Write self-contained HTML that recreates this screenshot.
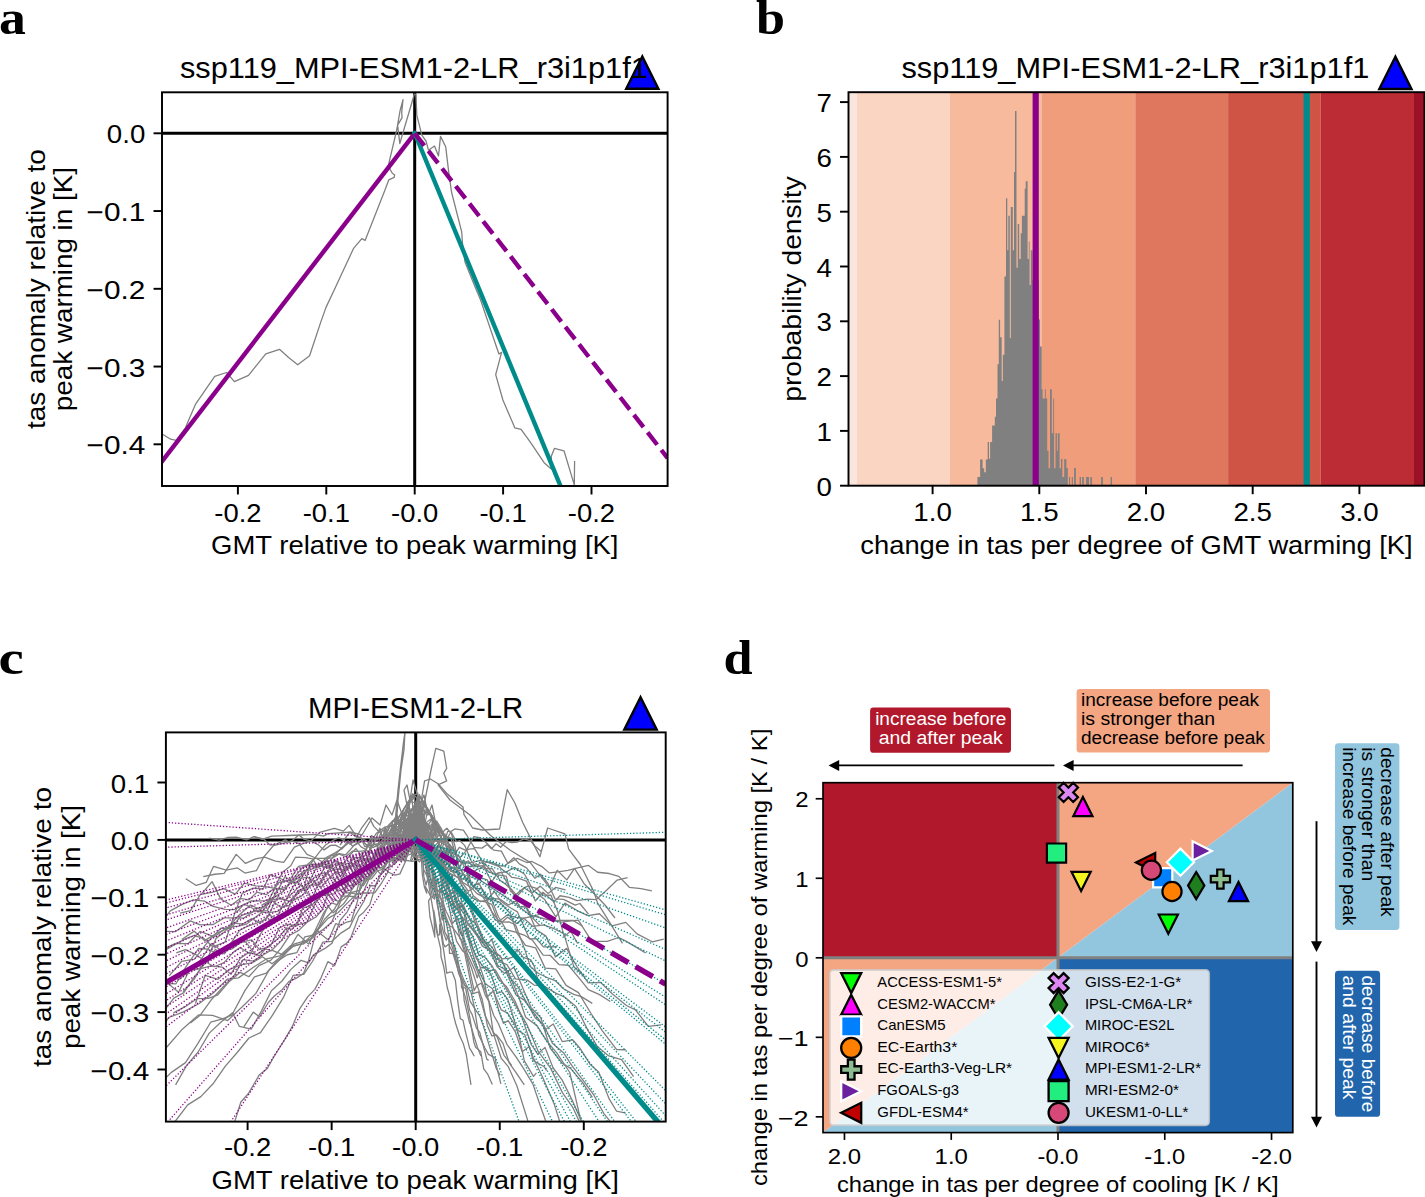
<!DOCTYPE html>
<html><head><meta charset="utf-8"><style>
html,body{margin:0;padding:0;background:#fff;overflow:hidden;width:1425px;height:1197px;}
svg{display:block;}
text{font-family:"Liberation Sans",sans-serif;}
</style></head><body>
<svg width="1425" height="1197" viewBox="0 0 1425 1197">
<rect width="1425" height="1197" fill="#fff"/>
<clipPath id="ca"><rect x="162.0" y="92.3" width="505.6" height="393.7"/></clipPath>
<g clip-path="url(#ca)">
<line x1="162.0" y1="133.3" x2="667.6" y2="133.3" stroke="#000" stroke-width="3.0"/>
<line x1="414.7" y1="92.3" x2="414.7" y2="486.0" stroke="#000" stroke-width="3.0"/>
<path d="M160.00,433.20 L162.60,434.20 L170.60,439.20 L176.10,440.30 L185.40,427.80 L195.60,404.10 L214.70,376.30 L226.60,372.50 L234.40,381.60 L248.50,375.40 L265.80,353.90 L279.50,349.30 L288.60,357.50 L297.70,364.80 L309.60,355.70 L320.50,322.90 L326.00,307.40 L334.20,290.00 L353.40,248.70 L361.80,238.70 L365.10,240.40 L385.00,190.00 L388.80,179.80 L394.20,177.30 L394.60,174.80 L392.50,173.50 L390.00,169.40 L388.80,163.50 L396.30,131.80 L397.60,125.10 L400.00,111.00 L403.00,99.60 L401.70,112.60 L402.10,117.60 L397.60,125.10 L399.80,143.50 L414.30,94.20 L415.90,94.20 L416.80,115.10 L421.80,135.10 L426.00,141.00 L428.50,150.20 L434.50,146.00 L438.50,156.00 L440.50,136.40 L445.70,146.80 L448.50,170.20 L451.50,192.00 L461.70,231.90 L462.50,243.50 L465.00,261.90 L475.10,287.00 L480.60,300.00 L498.90,354.00 L501.60,352.40 L495.70,374.60 L502.90,400.00 L514.80,427.80 L521.10,429.40 L529.80,441.30 L544.10,462.70 L551.30,469.00 L551.30,456.30 L554.40,448.40 L564.00,450.80 L574.30,484.90 L574.60,461.10" fill="none" stroke="#808080" stroke-width="1.3" stroke-linejoin="round"/>
<line x1="414.7" y1="133.3" x2="162" y2="461.4" stroke="#8b008b" stroke-width="4.4" stroke-linecap="square"/>
<line x1="414.7" y1="133.3" x2="562.57" y2="491.0" stroke="#008b8b" stroke-width="4.4" stroke-linecap="square"/>
<line x1="414.7" y1="133.3" x2="667.6" y2="458.1" stroke="#8b008b" stroke-width="4.4" stroke-dasharray="15.6 6.7"/>
</g>
<rect x="162.00" y="92.30" width="505.60" height="393.70" fill="none" stroke="#000" stroke-width="1.94" stroke-linejoin="miter"/>
<line x1="153.53" y1="133.30" x2="162.00" y2="133.30" stroke="#000" stroke-width="1.94"/>
<text x="145.36" y="143.30" font-size="25.65" textLength="38.49" lengthAdjust="spacingAndGlyphs" text-anchor="end">0.0</text>
<line x1="153.53" y1="211.05" x2="162.00" y2="211.05" stroke="#000" stroke-width="1.94"/>
<text x="145.36" y="221.05" font-size="25.65" textLength="58.76" lengthAdjust="spacingAndGlyphs" text-anchor="end">−0.1</text>
<line x1="153.53" y1="288.80" x2="162.00" y2="288.80" stroke="#000" stroke-width="1.94"/>
<text x="145.36" y="298.80" font-size="25.65" textLength="58.76" lengthAdjust="spacingAndGlyphs" text-anchor="end">−0.2</text>
<line x1="153.53" y1="366.55" x2="162.00" y2="366.55" stroke="#000" stroke-width="1.94"/>
<text x="145.36" y="376.55" font-size="25.65" textLength="58.76" lengthAdjust="spacingAndGlyphs" text-anchor="end">−0.3</text>
<line x1="153.53" y1="444.30" x2="162.00" y2="444.30" stroke="#000" stroke-width="1.94"/>
<text x="145.36" y="454.30" font-size="25.65" textLength="58.76" lengthAdjust="spacingAndGlyphs" text-anchor="end">−0.4</text>
<line x1="237.90" y1="486.00" x2="237.90" y2="494.47" stroke="#000" stroke-width="1.94"/>
<text x="237.90" y="521.60" font-size="25.65" textLength="47.22" lengthAdjust="spacingAndGlyphs" text-anchor="middle">-0.2</text>
<line x1="326.30" y1="486.00" x2="326.30" y2="494.47" stroke="#000" stroke-width="1.94"/>
<text x="326.30" y="521.60" font-size="25.65" textLength="47.22" lengthAdjust="spacingAndGlyphs" text-anchor="middle">-0.1</text>
<line x1="414.70" y1="486.00" x2="414.70" y2="494.47" stroke="#000" stroke-width="1.94"/>
<text x="414.70" y="521.60" font-size="25.65" textLength="47.22" lengthAdjust="spacingAndGlyphs" text-anchor="middle">-0.0</text>
<line x1="503.10" y1="486.00" x2="503.10" y2="494.47" stroke="#000" stroke-width="1.94"/>
<text x="503.10" y="521.60" font-size="25.65" textLength="47.22" lengthAdjust="spacingAndGlyphs" text-anchor="middle">-0.1</text>
<line x1="591.50" y1="486.00" x2="591.50" y2="494.47" stroke="#000" stroke-width="1.94"/>
<text x="591.50" y="521.60" font-size="25.65" textLength="47.22" lengthAdjust="spacingAndGlyphs" text-anchor="middle">-0.2</text>
<text x="414.80" y="553.80" font-size="25.65" textLength="407.44" lengthAdjust="spacingAndGlyphs" text-anchor="middle">GMT relative to peak warming [K]</text>
<text x="44.85" y="289.10" font-size="25.65" textLength="280.00" lengthAdjust="spacingAndGlyphs" text-anchor="middle" transform="rotate(-90 44.85 289.10)">tas anomaly relative to</text>
<text x="71.90" y="289.10" font-size="25.65" textLength="244.13" lengthAdjust="spacingAndGlyphs" text-anchor="middle" transform="rotate(-90 71.90 289.10)">peak warming in [K]</text>
<path d="M642.30,56.50 L626.20,88.70 L658.40,88.70 Z" fill="#0000ff" stroke="#000" stroke-width="2.4" stroke-linejoin="miter"/>
<text x="413.90" y="77.80" font-size="29.70" textLength="467.90" lengthAdjust="spacingAndGlyphs" text-anchor="middle">ssp119_MPI-ESM1-2-LR_r3i1p1f1</text>
<text x="-1.00" y="33.70" font-size="49.38" textLength="26.89" lengthAdjust="spacingAndGlyphs" style="font-family:&quot;Liberation Serif&quot;,serif" font-weight="bold">a</text>
<clipPath id="cb"><rect x="848.5" y="92.2" width="576.0" height="393.5"/></clipPath>
<g clip-path="url(#cb)">
<rect x="848.50" y="92.2" width="8.50" height="393.5" fill="#fae6dc"/>
<rect x="857.00" y="92.2" width="92.80" height="393.5" fill="#fad5c1"/>
<rect x="949.80" y="92.2" width="92.10" height="393.5" fill="#f7ba9d"/>
<rect x="1041.90" y="92.2" width="93.40" height="393.5" fill="#f09d7c"/>
<rect x="1135.30" y="92.2" width="92.80" height="393.5" fill="#df765e"/>
<rect x="1228.10" y="92.2" width="92.70" height="393.5" fill="#d05446"/>
<rect x="1320.80" y="92.2" width="93.20" height="393.5" fill="#bc2c35"/>
<rect x="1414.00" y="92.2" width="16.00" height="393.5" fill="#9b1226"/>
<path d="M977.4,485.7V477.0H980.1V485.7ZM980.1,485.7V459.5H982.6V485.7ZM982.6,485.7V468.3H984.2V485.7ZM984.2,485.7V472.2H985.8V485.7ZM985.8,485.7V459.5H987.7V485.7ZM987.7,485.7V442.0H989.0V485.7ZM989.0,485.7V458.7H990.1V485.7ZM990.1,485.7V442.0H992.1V485.7ZM992.1,485.7V425.4H994.8V485.7ZM994.8,485.7V416.7H996.0V485.7ZM996.0,485.7V398.4H997.5V485.7ZM997.5,485.7V364.3H998.8V485.7ZM998.8,485.7V319.8H1000.1V485.7ZM1000.1,485.7V337.3H1001.7V485.7ZM1001.7,485.7V381.0H1002.8V485.7ZM1002.8,485.7V354.8H1004.4V485.7ZM1004.4,485.7V276.5H1006.0V485.7ZM1006.0,485.7V198.2H1007.3V485.7ZM1007.3,485.7V250.2H1008.3V485.7ZM1008.3,485.7V215.7H1009.8V485.7ZM1009.8,485.7V337.9H1010.8V485.7ZM1010.8,485.7V206.9H1012.8V485.7ZM1012.8,485.7V250.2H1014.0V485.7ZM1014.0,485.7V171.9H1015.0V485.7ZM1015.0,485.7V110.9H1016.5V485.7ZM1016.5,485.7V267.7H1017.7V485.7ZM1017.7,485.7V223.9H1019.2V485.7ZM1019.2,485.7V259.0H1020.7V485.7ZM1020.7,485.7V233.3H1021.9V485.7ZM1021.9,485.7V215.7H1024.7V485.7ZM1024.7,485.7V188.8H1025.7V485.7ZM1025.7,485.7V181.3H1027.6V485.7ZM1027.6,485.7V259.0H1028.8V485.7ZM1028.8,485.7V241.4H1029.6V485.7ZM1029.6,485.7V285.0H1030.8V485.7ZM1030.8,485.7V250.2H1032.6V485.7ZM1032.6,485.7V280.0H1038.7V485.7ZM1038.7,485.7V319.6H1040.0V485.7ZM1040.0,485.7V346.5H1041.7V485.7ZM1041.7,485.7V389.2H1042.6V485.7ZM1042.6,485.7V398.4H1044.9V485.7ZM1044.9,485.7V389.2H1045.8V485.7ZM1045.8,485.7V398.4H1047.2V485.7ZM1047.2,485.7V450.8H1048.6V485.7ZM1048.6,485.7V468.3H1050.0V485.7ZM1050.0,485.7V389.2H1051.8V485.7ZM1051.8,485.7V433.3H1053.2V485.7ZM1053.2,485.7V398.4H1054.1V485.7ZM1054.1,485.7V468.3H1055.5V485.7ZM1055.5,485.7V433.3H1056.9V485.7ZM1056.9,485.7V450.8H1057.8V485.7ZM1057.8,485.7V433.3H1059.6V485.7ZM1059.6,485.7V468.3H1061.0V485.7ZM1061.0,485.7V459.1H1062.4V485.7ZM1062.4,485.7V477.0H1064.2V485.7ZM1064.2,485.7V459.1H1065.6V485.7ZM1065.6,485.7V459.5H1066.4V485.7ZM1066.4,485.7V468.0H1067.8V485.7ZM1069.0,485.7V477.0H1070.1V485.7ZM1071.8,485.7V477.0H1072.9V485.7ZM1074.1,485.7V468.0H1075.9V485.7ZM1079.6,485.7V477.0H1081.0V485.7ZM1082.2,485.7V477.0H1083.9V485.7ZM1086.1,485.7V477.0H1089.0V485.7ZM1090.3,485.7V477.0H1092.0V485.7ZM1101.1,485.7V477.0H1102.9V485.7ZM1110.6,485.7V477.0H1112.0V485.7Z" fill="#808080"/>
<line x1="1035.7" y1="92.2" x2="1035.7" y2="485.7" stroke="#8b008b" stroke-width="6.2"/>
<line x1="1306.7" y1="92.2" x2="1306.7" y2="485.7" stroke="#008b8b" stroke-width="6.4"/>
</g>
<rect x="848.50" y="92.20" width="576.00" height="393.50" fill="none" stroke="#000" stroke-width="1.94" stroke-linejoin="miter"/>
<line x1="840.03" y1="485.70" x2="848.50" y2="485.70" stroke="#000" stroke-width="1.94"/>
<text x="831.86" y="495.70" font-size="25.65" textLength="15.40" lengthAdjust="spacingAndGlyphs" text-anchor="end">0</text>
<line x1="840.03" y1="430.90" x2="848.50" y2="430.90" stroke="#000" stroke-width="1.94"/>
<text x="831.86" y="440.90" font-size="25.65" textLength="15.40" lengthAdjust="spacingAndGlyphs" text-anchor="end">1</text>
<line x1="840.03" y1="376.10" x2="848.50" y2="376.10" stroke="#000" stroke-width="1.94"/>
<text x="831.86" y="386.10" font-size="25.65" textLength="15.40" lengthAdjust="spacingAndGlyphs" text-anchor="end">2</text>
<line x1="840.03" y1="321.30" x2="848.50" y2="321.30" stroke="#000" stroke-width="1.94"/>
<text x="831.86" y="331.30" font-size="25.65" textLength="15.40" lengthAdjust="spacingAndGlyphs" text-anchor="end">3</text>
<line x1="840.03" y1="266.50" x2="848.50" y2="266.50" stroke="#000" stroke-width="1.94"/>
<text x="831.86" y="276.50" font-size="25.65" textLength="15.40" lengthAdjust="spacingAndGlyphs" text-anchor="end">4</text>
<line x1="840.03" y1="211.70" x2="848.50" y2="211.70" stroke="#000" stroke-width="1.94"/>
<text x="831.86" y="221.70" font-size="25.65" textLength="15.40" lengthAdjust="spacingAndGlyphs" text-anchor="end">5</text>
<line x1="840.03" y1="156.90" x2="848.50" y2="156.90" stroke="#000" stroke-width="1.94"/>
<text x="831.86" y="166.90" font-size="25.65" textLength="15.40" lengthAdjust="spacingAndGlyphs" text-anchor="end">6</text>
<line x1="840.03" y1="102.10" x2="848.50" y2="102.10" stroke="#000" stroke-width="1.94"/>
<text x="831.86" y="112.10" font-size="25.65" textLength="15.40" lengthAdjust="spacingAndGlyphs" text-anchor="end">7</text>
<line x1="932.60" y1="485.70" x2="932.60" y2="494.17" stroke="#000" stroke-width="1.94"/>
<text x="932.60" y="521.00" font-size="25.65" textLength="38.49" lengthAdjust="spacingAndGlyphs" text-anchor="middle">1.0</text>
<line x1="1039.30" y1="485.70" x2="1039.30" y2="494.17" stroke="#000" stroke-width="1.94"/>
<text x="1039.30" y="521.00" font-size="25.65" textLength="38.49" lengthAdjust="spacingAndGlyphs" text-anchor="middle">1.5</text>
<line x1="1146.00" y1="485.70" x2="1146.00" y2="494.17" stroke="#000" stroke-width="1.94"/>
<text x="1146.00" y="521.00" font-size="25.65" textLength="38.49" lengthAdjust="spacingAndGlyphs" text-anchor="middle">2.0</text>
<line x1="1252.70" y1="485.70" x2="1252.70" y2="494.17" stroke="#000" stroke-width="1.94"/>
<text x="1252.70" y="521.00" font-size="25.65" textLength="38.49" lengthAdjust="spacingAndGlyphs" text-anchor="middle">2.5</text>
<line x1="1359.40" y1="485.70" x2="1359.40" y2="494.17" stroke="#000" stroke-width="1.94"/>
<text x="1359.40" y="521.00" font-size="25.65" textLength="38.49" lengthAdjust="spacingAndGlyphs" text-anchor="middle">3.0</text>
<text x="1136.50" y="553.80" font-size="25.65" textLength="552.23" lengthAdjust="spacingAndGlyphs" text-anchor="middle">change in tas per degree of GMT warming [K]</text>
<text x="801.10" y="289.00" font-size="25.65" textLength="225.54" lengthAdjust="spacingAndGlyphs" text-anchor="middle" transform="rotate(-90 801.10 289.00)">probability density</text>
<path d="M1395.40,56.80 L1379.30,89.00 L1411.50,89.00 Z" fill="#0000ff" stroke="#000" stroke-width="2.4" stroke-linejoin="miter"/>
<text x="1135.40" y="77.90" font-size="29.70" textLength="467.90" lengthAdjust="spacingAndGlyphs" text-anchor="middle">ssp119_MPI-ESM1-2-LR_r3i1p1f1</text>
<text x="755.90" y="33.70" font-size="49.38" textLength="29.02" lengthAdjust="spacingAndGlyphs" style="font-family:&quot;Liberation Serif&quot;,serif" font-weight="bold">b</text>
<clipPath id="cc"><rect x="165.9" y="732.4" width="499.80000000000007" height="389.19999999999993"/></clipPath>
<g clip-path="url(#cc)">
<line x1="165.9" y1="839.9" x2="665.7" y2="839.9" stroke="#000" stroke-width="3.0"/>
<line x1="415.7" y1="732.4" x2="415.7" y2="1121.6" stroke="#000" stroke-width="3.0"/>
<path d="M203.25,876.53 L214.82,874.24 L224.17,873.39 L236.19,854.39 L245.55,863.42 L255.54,858.83 L264.58,857.10 L275.44,861.09 L283.70,862.43 L294.41,847.18 L302.10,843.91 L310.65,841.21 L319.64,832.36 L327.12,830.38 L334.50,828.37 L343.29,831.09 L349.09,825.40 L356.60,836.79 L361.21,828.74 L369.28,817.66 L373.77,826.38 L380.80,833.53 L385.23,842.00 L389.85,848.68 L394.63,853.43 L398.18,834.51 L401.24,829.69 L406.12,822.22 L408.20,824.18 L410.10,814.60 L412.46,822.03 L414.42,815.13 L416.75,824.52 L417.25,827.26 L418.74,826.61 L423.21,822.51 L423.27,830.21 L424.39,840.21 L428.03,840.63 L429.83,856.55 L431.04,863.37 L434.29,851.03 L437.44,846.58 L440.86,845.99 L444.82,833.71 L451.32,851.76 L452.76,846.88 L456.48,856.46 L461.53,864.00 L468.46,860.78 L472.32,866.68 L477.56,864.76 L482.60,862.28 L487.53,866.50 L492.96,873.98 L499.21,875.09 L506.25,876.20 L510.37,891.09 L515.07,895.19 L523.50,888.13 L528.39,885.91 L536.54,888.35 L542.97,895.20 L550.97,895.26 L557.61,911.46 L564.22,936.68 L570.52,931.05 L577.74,943.67" fill="none" stroke="#808080" stroke-width="1.3" stroke-linejoin="round"/>
<path d="M236.39,912.51 L243.28,904.84 L251.44,900.95 L256.42,900.99 L265.30,900.53 L273.52,897.69 L279.40,887.37 L285.05,876.53 L293.15,883.10 L298.67,882.28 L306.39,870.48 L311.48,865.79 L314.74,866.39 L322.77,866.11 L329.47,867.24 L334.73,859.78 L340.28,866.40 L342.85,872.65 L349.90,880.35 L355.61,881.97 L360.57,884.95 L363.32,885.70 L369.58,875.67 L372.57,868.34 L377.92,867.45 L380.54,849.67 L384.36,854.80 L389.19,851.01 L392.30,847.76 L395.09,841.62 L397.76,838.30 L401.29,834.48 L403.71,834.18 L404.47,820.53 L407.74,811.11 L408.94,805.96 L410.30,811.41 L412.73,816.95 L414.23,821.83 L415.25,831.58 L417.60,839.12 L418.63,839.61 L421.20,836.48 L423.45,852.01 L426.12,852.69 L430.93,856.69 L436.37,857.76 L438.65,866.36 L446.23,893.77 L449.74,902.33 L457.22,909.22 L463.33,905.34 L469.89,919.53 L475.62,931.97 L483.08,942.13 L491.81,946.50 L499.84,961.79 L507.02,964.61 L515.46,978.93 L527.24,980.13 L534.18,985.05 L543.94,986.05 L555.80,993.15 L565.22,997.40 L575.98,1006.45 L587.96,1030.35 L597.36,1046.61 L608.77,1055.91 L621.55,1059.71 L633.62,1076.59" fill="none" stroke="#808080" stroke-width="1.3" stroke-linejoin="round"/>
<path d="M201.95,893.54 L212.10,881.65 L220.68,898.87 L231.17,905.26 L240.31,898.43 L248.89,899.95 L256.89,892.21 L266.26,894.65 L273.96,888.54 L282.75,872.10 L290.79,865.69 L295.39,857.20 L305.45,857.72 L312.77,858.89 L318.07,867.88 L327.65,860.65 L333.19,869.34 L340.75,876.41 L346.12,866.38 L351.25,867.05 L356.86,860.53 L362.66,861.70 L369.30,868.56 L374.03,867.30 L378.19,867.79 L381.37,867.76 L387.98,871.11 L391.24,853.84 L396.39,851.54 L399.31,843.63 L401.77,848.02 L404.66,840.48 L407.98,844.28 L410.12,825.96 L411.88,824.72 L413.89,809.33 L414.98,815.59 L417.20,807.38 L417.33,820.91 L420.96,823.91 L420.35,839.10 L423.76,834.82 L425.43,843.34 L426.85,840.56 L428.53,836.86 L432.11,836.82 L434.39,849.41 L438.39,844.94 L441.70,835.57 L444.20,830.50 L446.89,828.24 L451.62,834.21 L454.98,846.23 L458.99,867.85 L463.95,859.87 L468.05,873.84 L472.50,886.17 L478.74,883.15 L483.21,890.85 L488.23,898.80 L494.35,891.50 L500.73,901.02 L505.35,904.42 L511.17,908.28 L517.39,911.90 L522.55,923.15 L529.50,938.97 L536.20,938.62 L543.47,946.93 L549.00,946.92 L556.76,946.74" fill="none" stroke="#808080" stroke-width="1.3" stroke-linejoin="round"/>
<path d="M181.73,939.46 L194.28,931.15 L204.53,940.58 L217.56,932.85 L227.13,928.35 L238.88,915.24 L250.45,904.97 L260.65,909.67 L267.23,902.67 L278.27,882.65 L289.66,880.03 L298.50,866.39 L307.14,864.78 L314.70,858.31 L324.10,858.26 L332.80,857.88 L339.47,853.62 L345.68,854.80 L354.74,844.63 L361.45,840.77 L364.82,841.39 L372.67,841.64 L379.66,849.03 L383.04,844.26 L389.99,834.66 L392.96,821.11 L398.96,821.77 L402.76,813.39 L404.63,813.51 L408.92,806.76 L411.36,798.16 L411.73,797.81 L413.94,797.01 L416.37,807.61 L417.48,797.47 L418.78,806.47 L421.20,814.67 L423.67,823.27 L425.70,823.88 L429.56,833.32 L431.34,837.04 L433.96,846.76 L438.43,854.38 L441.90,867.50 L447.94,864.01 L450.65,854.07 L455.15,853.84 L459.33,847.44 L465.72,850.39 L468.93,849.05 L474.53,848.57 L479.96,857.32 L485.97,868.73 L491.98,868.40 L500.00,880.27 L504.42,883.35 L511.47,889.80 L519.40,906.80 L526.53,906.72 L531.97,917.35 L540.06,925.70" fill="none" stroke="#808080" stroke-width="1.3" stroke-linejoin="round"/>
<path d="M160.45,923.58 L170.26,910.94 L182.21,904.39 L193.26,899.92 L204.43,901.11 L213.17,906.43 L224.96,909.39 L233.98,909.72 L244.39,904.17 L254.06,909.00 L263.58,907.26 L271.32,900.18 L280.62,907.28 L289.31,905.48 L298.08,890.56 L305.60,887.82 L314.30,877.48 L321.97,873.11 L327.24,873.02 L334.63,860.07 L342.69,864.49 L350.47,854.57 L355.94,848.55 L362.95,857.72 L367.64,852.00 L373.92,853.74 L379.69,852.98 L382.86,846.32 L389.33,842.06 L393.37,831.33 L396.89,822.79 L400.91,827.31 L402.64,827.14 L406.17,821.85 L409.51,815.87 L410.29,817.76 L412.68,822.36 L414.51,810.85 L417.50,832.26 L417.84,833.21 L420.51,846.90 L422.05,833.83 L426.24,843.20 L428.02,843.98 L431.03,849.21 L435.35,852.79 L439.28,858.88 L444.03,850.50 L450.82,861.74 L454.76,853.10 L460.13,857.59 L465.77,851.36 L473.74,836.69 L479.84,837.75 L486.06,842.44 L493.67,850.10 L501.33,851.10 L507.96,863.48 L517.26,858.36 L526.76,862.51 L531.87,861.49 L542.42,866.91 L549.34,872.90 L558.12,871.90 L567.87,870.31 L578.66,867.55 L588.49,865.48 L597.55,872.25 L609.23,873.51 L618.79,876.33 L629.34,887.31 L640.99,888.55 L651.87,890.92" fill="none" stroke="#808080" stroke-width="1.3" stroke-linejoin="round"/>
<path d="M169.23,975.95 L181.73,961.28 L194.55,959.21 L207.49,942.30 L220.94,928.08 L230.98,928.28 L241.51,915.45 L255.76,910.82 L266.39,912.93 L277.83,911.35 L287.26,903.57 L298.88,891.01 L306.47,889.33 L317.67,879.06 L326.66,864.43 L335.09,854.65 L342.06,847.56 L351.22,841.00 L358.45,836.79 L366.57,840.83 L372.90,847.64 L379.03,844.69 L385.34,836.10 L390.42,825.46 L395.15,817.95 L399.65,826.17 L403.36,823.78 L406.86,828.89 L408.22,829.09 L413.30,822.25 L413.59,824.37 L417.43,830.50 L419.20,844.33 L420.13,842.80 L423.12,846.79 L425.42,844.66 L428.63,849.91 L436.68,859.06 L438.08,856.58 L441.89,857.34 L448.00,872.41 L454.25,875.64 L457.61,877.30 L463.52,888.30 L471.28,897.41 L477.68,900.57 L485.36,901.74 L491.77,904.38 L499.52,924.21 L507.54,917.28 L516.57,923.43 L524.04,918.14 L535.34,915.75 L543.13,912.91 L551.61,920.45 L561.22,920.40 L573.03,920.41 L582.61,926.29" fill="none" stroke="#808080" stroke-width="1.3" stroke-linejoin="round"/>
<path d="M214.70,1138.81 L222.29,1136.12 L233.51,1125.57 L240.88,1102.05 L248.67,1093.20 L259.16,1075.10 L267.36,1068.43 L274.51,1055.73 L284.81,1039.40 L292.32,1026.39 L299.66,1008.89 L307.80,996.63 L314.88,989.34 L321.03,977.85 L327.85,961.64 L334.75,965.59 L341.19,946.90 L346.85,943.12 L350.92,937.52 L358.80,916.36 L363.58,912.41 L369.85,904.57 L375.27,886.71 L379.54,876.40 L384.29,867.18 L388.93,849.36 L390.98,851.20 L396.25,846.29 L399.78,846.07 L402.71,843.39 L404.26,840.42 L408.63,830.89 L410.15,836.74 L411.67,834.40 L413.71,828.94 L413.15,836.18 L417.38,837.94 L417.99,845.73 L423.09,856.45 L423.60,852.96 L427.97,842.11 L432.12,843.19 L435.99,849.14 L439.61,847.27 L445.45,848.70 L450.01,851.48 L455.71,863.73 L462.63,882.20 L471.73,887.91 L476.96,893.61 L485.64,898.17 L493.87,898.42 L500.30,899.40 L508.58,904.94 L519.69,899.17 L527.03,909.11 L536.08,929.56 L545.99,936.11 L555.44,956.86 L566.59,948.32 L576.74,966.25 L588.22,982.91 L600.74,982.44 L612.15,993.68 L626.42,1005.51 L635.46,1009.83 L648.29,1026.28 L661.23,1024.85" fill="none" stroke="#808080" stroke-width="1.3" stroke-linejoin="round"/>
<path d="M190.37,1023.09 L200.07,1015.34 L211.30,999.80 L223.79,986.09 L234.40,975.10 L243.07,959.59 L253.10,961.07 L263.80,954.43 L271.68,950.03 L282.43,954.71 L289.79,948.14 L297.98,934.25 L308.56,944.11 L314.92,930.98 L323.85,912.44 L331.70,902.82 L337.37,904.78 L344.63,892.83 L350.32,892.82 L359.73,890.25 L365.39,877.17 L370.12,876.09 L375.25,868.79 L382.41,862.02 L386.14,854.69 L390.91,858.61 L395.35,850.95 L399.47,843.02 L403.71,840.43 L406.23,831.30 L406.59,829.15 L409.56,826.61 L413.82,820.51 L413.31,812.86 L417.08,804.13 L418.37,797.94 L421.80,811.79 L424.80,822.42 L428.67,826.32 L432.33,824.20 L436.23,838.86 L441.97,851.29 L446.74,863.16 L452.69,868.24 L459.85,867.84 L465.99,878.97 L473.27,895.83 L480.53,901.64 L491.51,899.12 L498.28,916.51 L506.04,929.69 L516.54,932.46 L525.50,945.49 L535.57,947.84 L545.16,968.15 L555.73,968.84 L566.07,985.37 L578.46,992.59 L590.87,1013.23 L602.52,1031.11 L616.69,1049.68 L625.93,1049.74" fill="none" stroke="#808080" stroke-width="1.3" stroke-linejoin="round"/>
<path d="M179.27,979.52 L189.12,970.70 L201.86,968.26 L210.97,965.83 L222.11,967.03 L230.92,974.33 L240.33,958.08 L249.27,952.27 L259.52,955.93 L265.51,948.57 L278.06,938.55 L286.21,927.99 L292.20,929.27 L303.10,913.40 L309.50,907.19 L316.84,886.82 L325.91,872.67 L331.07,876.96 L338.10,883.25 L345.34,884.97 L350.34,874.83 L359.17,872.49 L362.65,876.27 L369.09,851.37 L373.90,844.60 L379.89,828.09 L383.16,840.23 L389.69,826.13 L394.24,827.20 L397.14,815.29 L400.49,825.27 L404.28,829.56 L407.49,824.46 L409.79,821.43 L411.75,819.58 L413.35,822.15 L414.06,821.92 L417.80,818.67 L420.37,823.90 L418.79,814.83 L421.46,823.32 L423.93,836.40 L428.46,850.96 L429.68,851.49 L432.55,856.96 L437.90,858.26 L440.58,855.17 L445.06,875.48 L449.73,884.84 L454.95,883.10 L458.47,899.79 L463.56,908.45 L470.36,919.83 L474.94,922.73 L480.56,933.52 L486.89,945.37 L494.08,953.16 L500.42,955.89 L507.24,974.48 L516.10,994.93 L524.14,1000.16 L530.47,1008.70 L538.63,1019.20 L545.45,1029.42 L553.26,1023.98 L562.36,1041.71 L572.58,1039.78 L579.58,1047.70 L589.99,1064.17 L598.69,1071.91 L609.16,1098.93 L616.64,1111.23 L625.83,1113.08" fill="none" stroke="#808080" stroke-width="1.3" stroke-linejoin="round"/>
<path d="M146.60,1169.26 L159.78,1154.29 L174.55,1122.20 L187.70,1104.87 L200.84,1096.64 L213.53,1083.18 L225.16,1066.39 L237.20,1052.49 L248.95,1038.03 L260.44,1032.57 L272.17,1015.64 L283.46,997.41 L293.13,975.31 L303.74,974.40 L312.56,961.25 L322.92,942.12 L331.90,941.33 L341.30,932.85 L349.58,927.64 L354.95,916.28 L364.19,900.60 L370.47,885.52 L375.27,885.88 L381.90,872.10 L388.20,861.34 L394.88,860.35 L399.33,854.66 L402.67,848.25 L405.12,827.63 L409.00,823.87 L412.66,815.87 L414.11,809.53 L417.41,805.52 L420.70,815.92 L420.06,819.97 L423.38,842.96 L425.45,848.14 L430.72,858.40 L434.09,862.50 L437.47,867.19 L444.13,887.74 L447.84,895.27 L452.90,912.25 L458.24,918.76 L463.93,943.25 L470.21,954.21 L477.42,971.53 L485.77,991.42 L493.67,1015.27 L498.34,1023.46 L506.91,1044.37 L516.18,1057.08 L523.03,1067.56 L532.82,1083.90 L541.23,1108.56 L550.38,1133.96 L560.53,1163.61 L574.82,1185.03 L581.40,1193.21 L592.13,1215.38 L602.63,1237.03 L615.17,1260.85 L624.89,1283.68" fill="none" stroke="#808080" stroke-width="1.3" stroke-linejoin="round"/>
<path d="M139.95,924.83 L150.06,927.39 L164.00,931.32 L175.57,931.59 L190.40,920.87 L200.12,924.90 L213.28,924.52 L224.22,917.93 L233.92,917.93 L243.56,918.20 L254.29,910.70 L267.08,910.88 L277.43,889.30 L286.52,887.13 L296.44,877.34 L304.58,870.46 L309.92,870.06 L322.76,863.70 L330.99,855.75 L338.65,853.95 L345.78,856.77 L352.29,851.22 L358.92,851.43 L366.12,850.52 L371.42,835.57 L377.03,839.61 L384.12,834.41 L388.55,825.14 L393.26,820.29 L398.03,821.59 L400.78,824.23 L405.19,825.00 L407.49,839.41 L409.86,840.06 L409.68,843.44 L414.54,832.07 L416.90,816.54 L417.96,826.58 L421.94,837.50 L423.26,838.91 L427.93,855.27 L429.65,871.02 L433.75,864.45 L438.49,866.29 L444.35,875.48 L450.40,867.90 L455.20,867.56 L461.27,881.32 L468.32,891.19 L474.80,887.22 L482.94,896.86 L491.94,911.98 L499.03,921.17 L507.19,915.02 L515.93,917.47 L523.60,918.08 L532.75,926.35 L543.89,924.95 L553.21,928.28 L563.80,933.62 L573.98,967.08 L584.87,976.98" fill="none" stroke="#808080" stroke-width="1.3" stroke-linejoin="round"/>
<path d="M185.75,878.76 L196.25,885.46 L206.32,882.30 L213.45,866.44 L226.27,870.13 L237.49,867.92 L244.93,873.02 L256.48,870.53 L263.61,857.12 L273.35,845.72 L283.36,843.13 L291.57,841.00 L298.82,843.31 L306.97,854.37 L315.74,858.01 L323.16,862.55 L329.47,867.45 L336.25,863.75 L342.54,865.95 L351.27,868.21 L356.55,878.55 L362.16,870.46 L368.53,870.18 L374.44,869.10 L379.16,852.77 L384.40,851.09 L388.46,862.19 L391.29,860.51 L397.79,849.43 L401.41,844.50 L403.04,843.21 L404.93,842.44 L409.30,829.36 L411.25,830.25 L412.28,822.94 L414.87,827.85 L416.41,819.38 L417.68,821.61 L420.14,816.57 L422.22,825.61 L426.98,839.72 L428.64,836.80 L431.68,847.36 L437.99,861.04 L443.90,880.54 L446.94,883.28 L450.06,892.51 L455.81,908.53 L462.42,904.16 L467.76,924.22 L473.13,930.55 L480.60,940.50 L487.62,948.50 L494.83,957.83 L502.06,961.21 L510.67,978.32 L518.10,986.84 L526.39,1002.25 L535.31,1017.99 L543.28,1024.06 L552.40,1043.29 L563.74,1053.10 L571.92,1065.58 L582.20,1079.18 L593.38,1094.28 L603.86,1113.64 L612.84,1124.62 L623.55,1145.06 L635.40,1160.25 L646.27,1180.82" fill="none" stroke="#808080" stroke-width="1.3" stroke-linejoin="round"/>
<path d="M156.30,984.85 L167.15,982.87 L178.60,992.18 L189.42,969.95 L200.20,960.76 L211.75,943.42 L221.73,951.09 L231.86,948.92 L241.08,942.21 L251.66,939.76 L259.29,949.66 L270.34,946.41 L279.21,927.98 L286.95,924.42 L297.03,925.37 L302.53,908.19 L311.79,905.43 L320.24,896.08 L328.56,894.36 L334.91,893.80 L342.67,876.49 L349.51,864.32 L354.18,857.48 L361.09,857.96 L363.16,860.42 L373.54,859.06 L378.09,852.91 L384.01,850.96 L385.54,848.13 L393.10,848.44 L396.59,853.56 L400.67,860.99 L400.88,856.31 L405.69,861.43 L408.49,847.72 L412.08,830.46 L411.57,834.84 L413.29,833.62 L420.23,840.17 L418.58,819.17 L421.61,827.79 L422.85,827.89 L424.72,830.45 L428.05,839.09 L430.98,850.11 L435.91,855.53 L437.96,855.06 L442.02,868.14 L446.44,883.38 L452.43,901.53 L456.01,920.55 L461.37,935.31 L467.09,927.83 L472.60,936.13 L478.88,954.94 L484.62,956.84 L492.42,966.50 L499.03,979.88 L506.12,986.13 L515.11,1001.21 L521.47,1016.13 L531.23,1044.49 L537.71,1054.08 L545.02,1047.37 L553.05,1067.76 L562.19,1080.11 L572.76,1101.39 L580.81,1119.88 L590.74,1144.56" fill="none" stroke="#808080" stroke-width="1.3" stroke-linejoin="round"/>
<path d="M141.07,986.67 L151.41,990.72 L164.64,983.34 L175.97,983.78 L185.92,966.89 L198.47,948.50 L208.35,949.22 L219.40,954.97 L228.50,946.80 L239.55,930.38 L248.13,926.04 L257.17,922.95 L266.30,919.11 L277.98,896.49 L285.56,900.13 L294.04,891.63 L301.33,884.51 L310.05,896.74 L318.24,893.27 L326.98,893.76 L334.32,888.20 L340.17,890.87 L346.70,886.41 L355.30,884.25 L361.58,874.44 L367.18,879.48 L371.52,867.26 L376.92,851.87 L383.09,855.23 L386.70,835.09 L392.08,834.49 L396.83,829.07 L399.45,830.56 L403.32,842.59 L405.14,834.65 L409.98,828.11 L411.68,824.08 L413.77,828.41 L414.62,826.40 L416.31,831.08 L418.42,837.97 L417.86,840.82 L420.61,840.82 L421.73,836.17 L423.76,839.48 L424.41,834.88 L425.52,848.70 L427.73,852.69 L430.39,862.19 L433.03,854.55 L437.56,862.44 L438.23,869.44 L440.54,860.63 L446.43,877.30 L448.68,881.78 L452.17,874.36 L454.71,891.99 L460.85,896.44 L462.27,908.07 L468.03,896.89 L470.02,907.18 L475.04,922.33 L480.40,934.93 L482.81,940.38 L488.48,943.33 L491.56,939.22 L496.42,952.74 L502.28,958.88 L508.96,958.09 L512.09,957.32 L517.30,949.19 L523.22,957.32 L530.79,959.93 L534.28,966.42 L539.96,987.95" fill="none" stroke="#808080" stroke-width="1.3" stroke-linejoin="round"/>
<path d="M195.45,1003.43 L205.15,975.42 L217.99,979.27 L229.07,969.62 L240.68,964.94 L251.97,962.97 L262.37,956.75 L272.04,963.79 L279.71,957.77 L292.82,946.70 L301.47,943.67 L310.92,938.55 L318.81,927.50 L327.84,905.97 L333.17,912.80 L343.63,903.85 L351.26,892.98 L357.76,894.66 L364.83,880.39 L371.51,878.55 L377.71,870.55 L381.88,869.62 L387.30,860.07 L393.17,854.64 L397.88,844.67 L402.03,858.86 L405.44,842.15 L408.52,832.05 L410.87,826.89 L413.44,822.48 L413.31,818.24 L417.47,796.15 L418.60,807.44 L422.31,829.64 L422.39,832.47 L422.86,831.89 L426.15,841.65 L427.99,853.79 L433.85,846.77 L436.23,848.01 L438.30,850.03 L441.81,856.68 L446.91,854.33 L450.10,844.88 L456.87,855.14 L458.97,855.99 L464.28,866.76 L470.31,866.64 L476.12,863.75 L481.40,867.84 L486.22,861.72 L493.89,862.95 L499.37,865.92 L505.00,865.85 L513.83,857.78 L519.32,863.90 L526.48,867.82 L535.01,878.35 L540.40,874.28 L547.85,883.22 L555.05,898.86 L563.59,899.36 L575.19,905.13 L579.83,903.51 L588.49,914.13" fill="none" stroke="#808080" stroke-width="1.3" stroke-linejoin="round"/>
<path d="M180.03,913.22 L190.53,910.69 L200.20,894.65 L212.79,892.17 L223.71,888.55 L235.23,894.19 L244.38,883.21 L255.82,885.89 L265.51,886.62 L275.36,888.40 L284.17,889.98 L292.37,879.31 L302.41,867.79 L310.41,864.04 L319.67,864.33 L327.54,856.72 L335.50,852.60 L341.03,849.14 L349.36,842.05 L356.51,841.75 L361.38,840.33 L368.92,846.96 L374.20,855.51 L379.92,868.06 L384.75,865.63 L390.41,856.28 L394.84,864.01 L398.48,859.15 L401.43,861.26 L403.86,851.87 L406.24,836.40 L410.85,837.88 L412.83,835.69 L414.61,810.48 L417.34,817.08 L418.12,814.03 L421.73,827.89 L423.99,830.35 L426.36,846.48 L428.97,851.97 L436.55,888.93 L438.89,890.84 L443.82,910.60 L449.38,925.84 L452.58,927.28 L460.36,938.10 L464.82,953.52 L473.01,993.60 L478.47,991.91 L485.19,1015.83 L492.91,1031.64 L501.14,1058.04 L508.42,1066.96 L516.87,1085.77 L526.86,1117.67 L535.68,1146.70 L547.47,1185.39 L553.56,1200.06 L564.52,1219.91 L575.13,1265.40 L584.34,1290.71 L595.57,1317.31 L607.37,1353.22 L618.13,1375.60" fill="none" stroke="#808080" stroke-width="1.3" stroke-linejoin="round"/>
<path d="M253.76,836.69 L263.31,838.84 L270.35,845.21 L276.89,843.85 L285.33,839.85 L289.88,842.50 L298.83,835.08 L303.88,839.13 L310.50,840.97 L318.08,844.62 L324.09,849.89 L330.45,845.37 L335.44,845.19 L342.30,848.72 L348.03,840.58 L352.48,846.07 L359.09,842.84 L362.79,840.87 L366.87,845.33 L372.88,845.35 L374.33,839.19 L381.34,843.84 L385.13,827.04 L387.97,826.38 L391.51,825.48 L395.05,824.48 L397.91,823.59 L401.58,822.33 L404.51,821.22 L407.37,820.03 L408.18,819.67 L407.82,819.83 L412.16,819.41 L413.97,829.09 L414.72,821.42 L416.64,819.82 L417.54,832.37 L419.22,829.51 L422.01,834.03 L421.77,835.01 L423.56,835.82 L424.34,832.10 L426.65,831.83 L431.32,833.94 L433.21,839.50 L436.90,840.64 L437.18,840.73 L440.84,839.66 L444.11,842.55 L447.70,831.34 L451.46,831.10 L455.24,828.80 L459.67,829.52 L463.41,830.07 L466.47,834.78 L474.17,847.38 L476.11,847.58 L481.89,848.12 L487.17,844.44 L491.48,848.89 L496.05,843.79 L500.61,847.24 L506.20,841.48 L511.79,842.69 L517.23,842.18 L523.71,838.86 L530.48,840.64 L534.57,845.77 L541.29,851.42" fill="none" stroke="#808080" stroke-width="1.3" stroke-linejoin="round"/>
<path d="M261.39,905.43 L269.32,900.69 L277.87,894.67 L282.99,891.73 L289.23,884.05 L299.95,876.87 L307.17,869.74 L312.54,861.06 L319.33,852.13 L325.60,845.03 L332.99,840.31 L339.04,837.71 L341.88,839.28 L350.14,844.26 L355.97,840.58 L360.85,846.66 L365.44,849.55 L369.54,853.09 L372.11,838.79 L378.85,837.39 L382.95,829.65 L386.26,834.26 L389.94,835.65 L395.13,834.97 L398.79,830.47 L401.90,818.49 L404.38,814.36 L405.86,821.25 L408.81,830.03 L411.12,831.30 L412.16,838.92 L414.12,827.95 L414.17,827.25 L418.01,845.83 L419.72,836.92 L422.67,840.05 L426.12,843.52 L431.96,853.19 L434.89,857.48 L440.78,873.74 L447.20,881.31 L452.84,902.95 L461.18,914.98 L467.85,935.20 L476.42,958.49 L487.02,970.80 L495.25,969.90 L504.40,985.67 L515.12,1004.35 L526.65,1024.00 L538.26,1051.43 L550.55,1068.11 L562.41,1092.63 L572.93,1107.67 L587.04,1138.20 L599.32,1180.24 L613.56,1198.94 L627.05,1220.66 L641.95,1253.30" fill="none" stroke="#808080" stroke-width="1.3" stroke-linejoin="round"/>
<path d="M135.16,975.49 L149.84,952.78 L162.06,949.87 L175.65,943.34 L188.30,943.54 L200.02,931.33 L214.43,936.78 L226.87,927.41 L238.63,926.22 L246.91,923.84 L260.98,912.97 L271.77,899.57 L279.59,898.74 L291.11,901.67 L302.20,895.63 L310.61,885.38 L320.17,884.05 L327.65,872.08 L335.87,869.01 L343.38,869.58 L352.61,864.33 L361.16,858.22 L367.77,859.19 L372.02,857.88 L380.57,853.02 L386.19,841.23 L391.36,851.45 L395.38,860.08 L400.00,847.92 L402.46,858.55 L407.14,856.24 L409.16,845.88 L412.63,842.11 L413.85,833.34 L416.79,836.20 L419.18,825.45 L420.01,826.62 L424.05,839.99 L427.97,846.04 L430.50,851.01 L435.74,850.21 L440.78,853.66 L443.84,864.58 L448.80,856.09 L456.33,870.82 L460.83,883.47 L466.79,895.52 L474.92,917.62 L483.13,938.66 L488.29,946.78 L497.11,966.81 L504.33,973.34 L514.03,967.44 L522.31,986.66 L531.12,1007.72 L540.78,1017.74 L550.15,1048.02 L562.04,1063.12 L570.55,1068.35 L582.61,1082.67 L592.36,1097.45" fill="none" stroke="#808080" stroke-width="1.3" stroke-linejoin="round"/>
<path d="M209.13,838.08 L219.12,840.20 L227.44,837.52 L236.32,837.24 L246.72,839.88 L253.96,836.68 L262.15,839.42 L271.75,836.09 L279.09,835.83 L287.73,835.51 L294.99,835.24 L300.94,834.99 L309.85,834.61 L314.60,834.38 L323.46,836.17 L327.96,833.67 L335.55,833.20 L341.88,832.75 L349.57,832.12 L355.27,836.26 L360.91,837.73 L364.67,846.51 L368.74,845.96 L376.13,833.47 L379.67,830.88 L384.96,827.08 L388.76,839.35 L391.92,841.37 L396.45,836.60 L399.66,831.60 L403.19,827.69 L405.53,836.80 L405.92,836.65 L409.54,835.06 L412.34,820.95 L411.35,823.01 L413.97,816.85 L417.19,819.30 L417.59,828.28 L420.16,821.60 L422.32,820.71 L424.02,832.71 L427.94,842.95 L430.62,832.43 L433.25,828.44 L436.28,829.57 L440.64,836.93 L445.71,842.99 L450.51,871.43 L454.13,872.29 L459.62,870.68 L465.96,869.04 L469.81,881.93 L476.06,888.61 L481.75,888.68 L487.75,901.71 L495.09,919.92 L503.13,922.19 L508.96,921.87 L515.49,924.74 L524.72,949.39 L530.32,966.56 L538.55,973.48 L548.66,978.23 L555.73,980.97 L563.40,988.79 L573.70,994.38 L581.36,996.62 L592.30,1003.40" fill="none" stroke="#808080" stroke-width="1.3" stroke-linejoin="round"/>
<path d="M183.03,991.74 L194.23,979.17 L204.63,961.30 L214.23,966.77 L223.96,962.63 L233.51,952.12 L240.07,947.46 L250.48,954.08 L259.27,936.21 L269.57,919.72 L278.07,917.96 L284.78,915.63 L292.85,898.70 L300.76,890.63 L309.05,881.70 L316.39,867.80 L322.91,863.81 L330.31,865.71 L336.19,873.12 L341.32,864.47 L350.82,863.13 L356.31,865.43 L360.11,867.06 L366.35,864.03 L370.50,845.71 L378.08,843.75 L383.13,847.19 L387.56,850.66 L391.76,841.87 L394.53,845.52 L397.60,840.47 L401.95,838.01 L404.67,840.10 L408.12,839.32 L408.89,842.11 L412.22,841.29 L412.48,829.98 L414.47,826.77 L417.75,833.04 L420.34,849.71 L421.69,842.93 L423.68,869.80 L427.66,876.99 L432.86,889.68 L437.72,891.00 L440.97,891.12 L447.07,895.48 L454.27,896.80 L459.11,913.89 L469.30,924.51 L476.79,935.00 L482.32,946.16 L493.29,952.31 L497.85,965.45 L507.79,970.91 L518.29,995.79 L525.66,1017.23 L536.96,1025.63 L547.22,1041.55 L556.94,1053.11 L569.77,1072.51 L580.49,1119.35 L591.22,1142.32 L603.52,1166.28 L618.78,1187.56 L629.45,1204.28 L643.37,1215.28" fill="none" stroke="#808080" stroke-width="1.3" stroke-linejoin="round"/>
<path d="M162.66,1012.47 L173.85,998.11 L183.88,992.68 L192.73,979.04 L205.15,963.08 L215.31,949.54 L224.35,953.82 L233.81,941.01 L245.83,942.18 L255.95,955.14 L265.00,948.74 L271.30,950.76 L281.45,940.61 L290.22,926.34 L299.27,924.49 L306.63,922.40 L315.95,917.04 L322.17,909.97 L329.36,889.91 L337.41,876.00 L344.84,891.62 L350.87,889.95 L356.47,875.31 L363.40,859.38 L368.07,859.42 L374.41,862.58 L379.25,861.09 L382.28,861.39 L385.90,854.74 L393.71,853.28 L397.66,849.53 L400.64,841.85 L404.14,839.24 L405.61,827.70 L409.07,821.26 L411.64,815.24 L413.69,814.66 L414.65,813.55 L417.76,809.91 L418.37,800.12 L421.62,807.54 L422.50,813.68 L425.33,832.74 L429.03,838.42 L433.02,842.92 L439.16,861.09 L444.02,868.06 L448.91,872.28 L452.80,890.76 L460.35,913.67 L464.23,924.90 L470.85,948.03 L477.19,967.94 L485.40,983.74 L492.26,988.53 L501.31,1009.92 L507.71,1013.18 L518.39,1030.64 L524.66,1034.51 L533.39,1057.93 L542.86,1077.73 L553.95,1103.42 L562.78,1131.02 L571.98,1151.44" fill="none" stroke="#808080" stroke-width="1.3" stroke-linejoin="round"/>
<path d="M176.29,952.94 L185.23,949.68 L196.09,954.66 L206.18,961.75 L216.00,938.38 L224.70,931.64 L233.87,922.77 L242.37,924.25 L251.83,918.68 L260.15,923.13 L269.32,915.21 L276.41,918.59 L282.98,904.79 L293.37,886.30 L299.75,878.73 L307.05,877.07 L315.41,882.49 L320.71,887.79 L327.63,879.75 L335.33,872.34 L339.82,872.64 L346.42,869.43 L352.74,856.23 L358.78,866.36 L364.93,871.03 L369.86,863.78 L374.29,859.08 L379.72,839.00 L383.52,835.41 L386.56,841.28 L392.05,845.42 L396.47,839.32 L399.18,834.72 L402.42,834.78 L403.53,841.37 L407.52,835.97 L410.10,836.60 L410.62,832.45 L414.19,837.94 L413.48,836.23 L419.79,834.74 L418.17,824.85 L419.09,834.33 L423.34,836.59 L425.09,827.90 L427.81,829.40 L429.11,825.97 L432.89,838.17 L438.33,826.92 L440.80,838.80 L444.18,842.61 L451.15,832.01 L456.41,841.61 L459.65,840.57 L464.61,845.35 L470.99,860.55 L475.71,866.63 L482.44,865.64 L489.17,872.17 L496.32,874.10 L501.33,871.98 L509.27,886.83 L517.26,895.98 L524.22,887.97 L531.87,892.96 L540.30,886.13 L548.09,893.47 L555.54,887.41 L565.48,889.91" fill="none" stroke="#808080" stroke-width="1.3" stroke-linejoin="round"/>
<path d="M243.82,1026.78 L253.29,1012.14 L259.64,1016.90 L268.35,1002.53 L274.14,996.29 L282.35,989.43 L289.09,981.30 L296.48,978.11 L303.60,973.23 L308.34,961.30 L316.75,929.77 L321.63,934.79 L328.44,940.07 L335.67,923.65 L340.97,925.29 L346.75,922.04 L351.23,921.05 L357.43,901.45 L361.77,877.52 L366.36,861.62 L371.49,861.96 L376.08,859.56 L381.13,856.90 L384.79,850.45 L389.38,845.59 L392.95,850.35 L393.99,830.63 L397.68,841.53 L401.31,852.80 L403.60,859.08 L406.92,845.88 L407.90,842.24 L409.85,832.11 L411.40,837.54 L412.75,819.22 L412.46,817.27 L417.27,829.05 L418.52,820.17 L418.93,816.26 L421.05,830.00 L423.85,826.64 L427.68,856.20 L429.88,855.96 L432.84,855.52 L438.57,859.81 L440.84,861.46 L445.91,860.62 L449.71,866.90 L455.75,876.24 L462.21,878.77 L466.30,879.35 L471.13,873.20 L477.64,869.10 L484.31,867.70 L491.69,881.88 L497.45,873.11 L505.98,871.90 L512.00,877.43 L518.78,878.35 L526.42,881.11 L535.35,900.99 L542.91,892.23 L553.99,902.11 L560.00,895.76 L569.05,897.28 L577.12,900.53 L587.48,899.22 L596.09,899.67 L606.82,889.94 L617.14,880.09 L627.58,877.51" fill="none" stroke="#808080" stroke-width="1.3" stroke-linejoin="round"/>
<path d="M163.01,951.29 L173.82,945.12 L184.18,939.38 L193.65,935.71 L203.30,938.02 L212.86,946.78 L224.97,942.18 L233.96,915.72 L242.19,893.40 L253.18,888.18 L263.06,889.02 L270.32,874.62 L280.71,878.75 L288.55,882.26 L297.26,882.06 L303.91,888.20 L309.23,866.80 L319.27,865.52 L327.20,867.94 L333.52,868.56 L341.24,862.25 L346.61,870.07 L353.74,865.02 L359.10,873.47 L365.89,866.11 L370.11,863.30 L375.65,851.21 L380.82,845.90 L386.09,858.32 L389.92,854.29 L392.73,854.78 L398.51,842.07 L399.69,835.62 L404.15,836.61 L407.87,821.81 L409.81,820.04 L411.56,829.51 L411.75,827.60 L413.44,827.59 L418.11,828.08 L418.18,835.01 L423.23,845.36 L424.49,846.66 L427.47,845.98 L433.03,861.23 L437.14,861.16 L442.35,863.02 L446.73,869.03 L453.38,860.38 L460.05,861.42 L465.10,863.27 L472.56,862.35 L480.16,860.31 L488.55,862.68 L498.10,866.02 L505.67,872.18 L514.43,867.65 L524.56,874.25 L533.40,890.50 L544.38,899.18 L555.88,916.81 L564.88,903.09 L577.52,910.79 L588.06,915.58 L599.40,913.74 L612.09,925.88 L625.72,922.36 L637.04,933.92 L652.30,941.77 L663.75,939.16" fill="none" stroke="#808080" stroke-width="1.3" stroke-linejoin="round"/>
<path d="M173.39,1012.83 L185.16,1006.70 L196.93,998.69 L208.22,998.34 L217.38,995.24 L228.80,982.02 L240.24,972.35 L248.80,976.71 L259.01,965.59 L270.95,960.17 L281.16,948.20 L289.45,935.54 L299.14,930.16 L306.90,922.31 L315.36,903.29 L325.11,891.09 L333.21,899.68 L339.82,901.62 L347.45,884.24 L354.57,871.63 L360.14,858.15 L365.28,850.03 L372.03,836.57 L379.08,838.94 L384.71,835.47 L388.66,844.86 L394.27,844.36 L398.72,849.14 L402.38,838.22 L405.87,836.15 L406.54,841.85 L411.04,830.24 L413.16,823.41 L414.31,808.48 L418.76,822.88 L418.77,802.45 L421.42,818.28 L422.27,822.98 L424.85,824.07 L427.90,809.21 L432.64,819.70 L436.68,821.11 L441.56,829.07 L444.32,836.22 L450.81,837.79 L455.61,854.86 L459.94,868.86 L465.99,877.58 L474.19,887.46 L479.09,877.33 L487.30,879.76 L492.28,899.41 L499.72,902.32 L510.59,913.76 L516.65,932.64 L524.89,935.43 L532.44,940.24 L543.17,955.17 L550.38,955.46 L559.00,964.54 L568.38,965.23 L580.63,979.82 L588.33,989.59 L599.50,994.66 L610.29,1001.51" fill="none" stroke="#808080" stroke-width="1.3" stroke-linejoin="round"/>
<path d="M415.68,830.21 L416.83,813.75 L419.71,832.15 L418.17,832.91 L419.76,824.03 L421.77,848.49 L423.66,848.79 L426.01,854.86 L431.57,866.41 L432.46,881.68 L434.01,877.24 L438.04,896.06 L441.07,898.27 L446.23,911.76 L448.14,915.30 L452.68,926.18 L456.53,941.18 L462.71,951.05 L465.74,953.16 L471.47,967.95 L475.50,980.85 L482.21,999.53 L487.46,1025.92 L491.86,1035.96 L496.53,1034.87 L503.01,1043.33 L509.16,1062.79 L515.88,1072.32 L524.30,1084.90" fill="none" stroke="#808080" stroke-width="1.3" stroke-linejoin="round"/>
<path d="M412.67,822.27 L416.07,819.11 L421.17,827.46 L417.44,805.73 L419.24,816.60 L421.77,817.35 L421.94,823.45 L423.69,821.83 L427.49,831.60 L428.34,837.09 L429.49,856.88 L432.24,867.86 L435.04,872.69 L438.27,899.02 L441.21,888.07 L444.35,908.88 L445.38,918.64 L449.23,925.12 L452.16,936.72 L455.43,957.88 L459.51,968.64 L463.76,979.89 L466.29,984.79 L471.05,992.48 L474.31,1006.93 L478.62,1034.64 L484.89,1047.95 L488.47,1054.35 L495.08,1057.80 L496.33,1065.65 L500.88,1083.86" fill="none" stroke="#808080" stroke-width="1.3" stroke-linejoin="round"/>
<path d="M418.40,824.74 L416.22,802.66 L416.49,803.39 L417.47,808.86 L419.33,826.90 L420.59,832.18 L421.38,836.33 L425.11,840.53 L423.89,838.76 L427.12,854.72 L426.72,850.82 L428.49,850.37 L431.90,868.09 L432.25,869.80 L435.35,889.06 L436.92,902.81 L440.14,919.05 L443.98,934.06 L446.26,940.26 L448.66,934.12 L449.51,953.46 L453.55,953.29 L457.31,957.62 L459.64,969.49 L462.56,989.25 L465.45,997.35 L469.52,1016.16 L473.89,1042.21 L475.63,1047.20 L480.79,1051.76 L483.74,1068.78 L487.50,1073.84 L492.32,1084.48" fill="none" stroke="#808080" stroke-width="1.3" stroke-linejoin="round"/>
<path d="M420.24,825.05 L416.99,843.49 L416.59,830.04 L421.39,851.57 L418.31,850.79 L420.20,856.71 L421.80,860.08 L421.71,853.16 L424.26,855.34 L424.76,853.43 L426.96,870.84 L428.69,877.72 L432.54,897.57 L434.51,899.07 L434.85,893.87 L438.04,894.08 L442.19,919.99 L442.79,911.61 L444.71,931.71 L449.03,940.14 L452.07,946.30 L455.83,959.60 L458.50,972.93 L462.87,983.79 L464.18,1000.56 L469.65,1023.12 L469.70,1021.99 L474.46,1037.62 L477.47,1047.38 L480.90,1055.93" fill="none" stroke="#808080" stroke-width="1.3" stroke-linejoin="round"/>
<path d="M415.74,829.19 L416.50,846.60 L418.11,844.58 L419.04,840.63 L419.50,842.16 L420.73,825.98 L422.65,847.86 L424.96,846.94 L426.54,846.16 L431.08,861.54 L432.72,858.46 L435.20,859.41 L439.12,864.66 L442.14,890.05 L446.01,899.55 L448.47,893.80 L452.96,902.41 L454.99,901.19 L459.25,904.45 L463.24,933.36 L467.13,953.37 L474.58,969.66 L477.27,977.77 L480.68,967.52 L486.96,967.40 L491.74,976.28 L497.17,993.51 L501.77,991.57 L507.72,999.12 L512.89,1015.79 L519.87,1039.58 L524.31,1060.87 L533.50,1076.42 L536.42,1072.95" fill="none" stroke="#808080" stroke-width="1.3" stroke-linejoin="round"/>
<path d="M411.57,832.65 L416.53,806.26 L417.82,808.17 L418.91,802.56 L421.56,815.09 L421.20,806.48 L423.03,816.97 L426.12,828.98 L427.54,823.29 L430.05,829.96 L433.50,854.63 L437.89,857.47 L439.35,858.13 L444.63,868.21 L446.05,875.95 L450.65,893.59 L454.02,890.46 L458.22,905.97 L464.19,913.87 L466.59,927.92 L473.38,950.24 L477.25,958.89 L483.50,976.68 L487.14,997.00 L493.52,990.78 L499.07,1011.59 L503.41,1023.34 L508.22,1020.68 L515.36,1031.97 L522.23,1051.74 L529.20,1046.41 L533.29,1060.57 L544.18,1066.76 L546.58,1070.69" fill="none" stroke="#808080" stroke-width="1.3" stroke-linejoin="round"/>
<path d="M417.32,828.65 L412.70,817.58 L410.73,828.17 L407.92,848.62 L405.26,861.97 L399.92,873.86 L394.91,875.10 L387.96,872.03 L381.90,882.53 L374.69,892.95 L364.86,892.99 L357.02,893.66 L348.90,901.36 L338.27,912.49 L327.99,918.33 L318.08,929.55 L306.03,940.62 L293.69,944.23 L282.22,957.32 L269.07,970.24 L255.90,993.39 L242.31,1006.70 L227.68,1020.54 L212.48,1015.46 L198.52,1014.88 L182.36,1029.15 L166.86,1047.05 L150.30,1058.22" fill="none" stroke="#808080" stroke-width="1.3" stroke-linejoin="round"/>
<path d="M416.31,836.17 L413.69,822.22 L411.65,821.76 L410.57,827.06 L406.04,838.34 L404.95,848.75 L399.06,860.66 L396.83,858.64 L392.15,865.89 L386.67,868.20 L381.05,874.63 L375.30,868.16 L369.99,877.01 L361.13,881.18 L354.47,885.81 L348.23,895.19 L340.81,901.04 L331.67,922.35 L322.54,929.90 L315.69,934.65 L304.86,936.77 L296.83,952.68 L287.37,954.74 L276.05,961.92 L266.27,973.06 L254.51,976.80 L245.19,990.13 L231.79,1015.20 L222.57,1018.78 L210.69,1022.24 L197.81,1043.66 L185.51,1062.64 L171.38,1072.38 L159.52,1084.11" fill="none" stroke="#808080" stroke-width="1.3" stroke-linejoin="round"/>
<path d="M416.70,823.35 L414.73,830.31 L411.19,839.46 L407.96,839.37 L405.56,849.67 L400.06,854.39 L396.33,857.74 L389.84,857.76 L384.09,850.78 L376.55,869.50 L369.18,878.62 L360.78,898.34 L352.97,896.48 L341.73,895.96 L334.09,909.57 L324.59,919.27 L312.90,937.79 L303.02,944.14 L290.94,945.59 L279.97,955.83 L266.72,958.78 L253.78,967.05 L238.49,977.88 L227.45,979.07 L213.22,993.01 L198.87,1003.71 L183.44,1011.90 L168.65,1017.51 L150.77,1045.40" fill="none" stroke="#808080" stroke-width="1.3" stroke-linejoin="round"/>
<path d="M416.91,824.63 L413.14,810.58 L413.44,809.26 L411.08,808.95 L409.34,812.24 L405.63,827.25 L402.31,834.04 L398.99,843.15 L392.25,846.75 L388.74,853.83 L383.57,849.47 L379.70,849.40 L374.58,856.62 L366.90,873.99 L360.59,876.14 L355.82,895.08 L347.24,911.79 L340.04,920.52 L332.06,943.32 L325.77,947.88 L313.25,955.10 L308.61,962.83 L301.06,960.31 L290.92,969.37 L281.77,981.26 L271.42,990.67 L260.94,1011.89 L251.23,1029.08 L239.45,1026.45 L232.55,1012.81 L221.35,1021.71 L209.26,1033.13 L198.13,1052.01 L186.50,1065.68 L175.60,1084.82" fill="none" stroke="#808080" stroke-width="1.3" stroke-linejoin="round"/>
<path d="M416.13,835.35 L416.51,833.63 L418.14,832.45 L419.52,836.70 L420.33,850.85 L419.43,845.68 L420.15,837.77 L422.72,857.96 L423.87,876.91 L425.97,885.06 L427.33,879.84 L428.15,880.84 L430.41,894.53 L432.26,905.32 L434.71,919.70 L436.20,929.66 L440.72,948.87 L440.97,956.49 L443.77,966.77 L447.20,987.26 L449.94,997.13 L453.88,1016.64 L455.72,1023.74 L459.45,1035.27 L463.23,1043.42 L466.12,1053.76 L470.99,1084.84" fill="none" stroke="#808080" stroke-width="1.3" stroke-linejoin="round"/>
<path d="M414.47,831.50 L416.82,835.25 L416.79,840.98 L417.72,839.33 L420.78,857.00 L420.36,851.43 L419.25,839.23 L421.26,856.05 L422.30,874.05 L424.38,887.08 L426.73,893.20 L425.28,886.30 L431.08,896.90 L428.56,900.96 L429.96,917.01 L434.87,937.08 L433.72,910.10 L437.85,935.45 L439.51,934.56 L439.69,924.61 L442.65,943.93 L444.26,954.08 L446.74,973.15 L449.85,972.10 L452.19,972.04 L455.37,980.47 L457.77,1001.45 L460.29,1018.58 L462.99,1020.28 L465.07,1030.08 L469.57,1048.18 L471.62,1051.32 L474.27,1056.22" fill="none" stroke="#808080" stroke-width="1.3" stroke-linejoin="round"/>
<path d="M418.78,835.37 L418.48,818.62 L418.69,830.73 L417.49,829.57 L418.56,832.81 L420.49,840.38 L422.22,841.56 L422.37,842.45 L426.76,853.06 L427.21,861.06 L428.31,870.89 L429.76,864.91 L432.31,866.23 L434.23,888.69 L437.06,899.99 L440.76,903.49 L443.00,910.43 L445.78,919.20 L449.20,939.27 L450.91,942.48 L454.68,945.53 L461.41,980.84 L461.60,987.83 L465.61,987.94 L469.54,1009.79 L472.17,1014.58 L476.48,1028.11 L479.69,1032.26 L486.92,1059.38 L488.66,1060.37" fill="none" stroke="#808080" stroke-width="1.3" stroke-linejoin="round"/>
<path d="M415.03,834.63 L417.67,831.89 L417.62,833.93 L417.64,827.02 L421.19,835.13 L420.48,840.87 L422.04,841.69 L425.96,859.35 L425.55,864.60 L428.18,868.97 L430.58,878.66 L433.85,896.60 L436.63,894.98 L440.17,922.88 L443.40,943.86 L445.04,946.90 L448.66,944.29 L452.22,951.24 L457.10,966.85 L458.37,970.83 L465.29,986.38 L466.37,985.61 L470.19,1001.35 L475.77,1010.16 L479.66,1015.88 L483.49,1026.39 L488.34,1042.58 L496.07,1067.88 L500.14,1075.42" fill="none" stroke="#808080" stroke-width="1.3" stroke-linejoin="round"/>
<path d="M417.32,826.82 L417.10,824.63 L417.67,821.82 L418.17,839.77 L419.28,844.54 L420.67,850.27 L423.13,854.17 L423.77,858.05 L423.97,855.56 L427.81,880.79 L429.56,869.78 L430.16,877.33 L432.11,882.08 L435.38,890.61 L437.53,878.61 L440.34,890.66 L444.09,882.22 L445.67,880.94 L448.07,901.62 L452.45,923.53 L456.39,918.52 L459.92,938.97 L461.43,939.37 L465.12,949.77 L469.25,967.95 L474.14,990.62 L476.55,985.87 L481.31,982.98 L485.41,995.48 L488.84,1001.48 L493.08,1031.93 L497.15,1036.85 L504.02,1055.34 L507.73,1060.22 L511.63,1065.32" fill="none" stroke="#808080" stroke-width="1.3" stroke-linejoin="round"/>
<path d="M412.77,852.08 L406.80,835.08 L401.31,845.88 L399.46,836.33 L389.91,831.50 L398.56,817.55 L395.72,822.12 L412.45,837.80" fill="none" stroke="#808080" stroke-width="1.3" stroke-linejoin="round"/>
<path d="M410.51,860.76 L414.67,842.73 L408.29,845.82 L396.96,820.12 L408.70,801.20 L415.13,802.91" fill="none" stroke="#808080" stroke-width="1.3" stroke-linejoin="round"/>
<path d="M436.09,852.09 L440.84,856.56 L438.77,855.15 L433.33,845.95 L432.92,831.63 L434.31,819.92 L418.70,794.11" fill="none" stroke="#808080" stroke-width="1.3" stroke-linejoin="round"/>
<path d="M436.39,853.99 L451.66,857.91 L446.70,839.90 L434.20,819.74 L436.95,824.18 L430.11,813.14 L436.97,835.14 L436.72,839.23" fill="none" stroke="#808080" stroke-width="1.3" stroke-linejoin="round"/>
<path d="M412.42,856.77 L414.72,849.64 L405.38,830.74 L413.69,816.81 L411.70,796.36 L418.19,793.12 L418.43,793.15" fill="none" stroke="#808080" stroke-width="1.3" stroke-linejoin="round"/>
<path d="M416.14,846.72 L429.87,843.56 L428.83,853.81 L432.61,847.78 L425.93,854.44 L419.44,861.73 L409.34,850.41" fill="none" stroke="#808080" stroke-width="1.3" stroke-linejoin="round"/>
<path d="M442.73,833.50 L422.10,825.46 L424.76,814.68 L427.74,809.31 L401.88,817.01 L409.91,810.50 L407.51,803.11 L412.70,793.80 L427.54,808.99 L421.56,799.34" fill="none" stroke="#808080" stroke-width="1.3" stroke-linejoin="round"/>
<path d="M421.32,858.01 L415.86,848.91 L412.51,840.88 L426.44,848.05 L420.58,852.21 L416.46,852.13 L394.32,859.80 L389.95,855.51 L389.95,835.07 L397.92,832.17 L395.52,822.44" fill="none" stroke="#808080" stroke-width="1.3" stroke-linejoin="round"/>
<path d="M415.02,831.61 L393.72,842.24 L400.85,859.50 L412.28,861.36 L427.98,856.91 L432.76,836.44 L437.53,825.10 L422.25,800.46" fill="none" stroke="#808080" stroke-width="1.3" stroke-linejoin="round"/>
<path d="M424.33,846.04 L429.77,851.95 L422.88,853.27 L430.57,844.08 L435.03,830.90 L432.52,836.05" fill="none" stroke="#808080" stroke-width="1.3" stroke-linejoin="round"/>
<path d="M437.07,847.35 L430.72,849.63 L445.39,851.88 L434.03,860.32 L433.15,848.15 L438.58,841.60 L443.56,855.86 L452.28,848.90 L452.59,849.40 L433.43,837.68" fill="none" stroke="#808080" stroke-width="1.3" stroke-linejoin="round"/>
<path d="M438.83,853.81 L446.16,860.34 L447.95,859.02 L447.27,853.33 L444.97,857.29 L448.93,843.49 L433.76,819.03 L436.15,826.03 L449.22,844.09 L452.73,849.63" fill="none" stroke="#808080" stroke-width="1.3" stroke-linejoin="round"/>
<path d="M434.19,840.95 L421.23,821.56 L423.44,829.90 L434.38,826.55 L429.42,812.02 L428.57,810.65 L430.15,815.53" fill="none" stroke="#808080" stroke-width="1.3" stroke-linejoin="round"/>
<path d="M391.09,839.88 L392.66,827.06 L400.36,820.78 L403.95,808.86 L408.44,801.92 L412.51,797.25" fill="none" stroke="#808080" stroke-width="1.3" stroke-linejoin="round"/>
<path d="M415.33,852.01 L418.00,859.37 L408.90,848.35 L406.87,844.32 L404.92,846.06 L394.01,829.27 L414.25,815.13 L415.09,811.48 L422.09,812.00" fill="none" stroke="#808080" stroke-width="1.3" stroke-linejoin="round"/>
<path d="M436.99,824.25 L433.61,834.34 L424.08,851.27 L434.10,848.66 L445.62,859.61 L429.60,843.88 L416.71,847.47" fill="none" stroke="#808080" stroke-width="1.3" stroke-linejoin="round"/>
<path d="M405.66,859.54 L406.75,848.63 L413.84,834.96 L408.65,815.92 L420.31,797.33 L423.07,801.79" fill="none" stroke="#808080" stroke-width="1.3" stroke-linejoin="round"/>
<path d="M378.08,850.57 L391.70,828.61 L395.17,848.74 L394.16,826.69 L403.46,842.12 L402.18,844.85 L412.54,835.82 L406.63,838.88 L412.80,841.59" fill="none" stroke="#808080" stroke-width="1.3" stroke-linejoin="round"/>
<path d="M440.55,848.48 L436.24,861.45 L434.41,851.52 L454.69,852.79 L435.12,853.67 L441.05,837.65 L428.33,810.27 L423.51,805.79 L422.96,801.60" fill="none" stroke="#808080" stroke-width="1.3" stroke-linejoin="round"/>
<path d="M410.16,851.05 L415.19,830.15 L421.72,832.66 L433.06,836.57 L439.07,831.33 L418.29,818.19 L428.73,810.91 L419.59,796.18 L415.99,797.96" fill="none" stroke="#808080" stroke-width="1.3" stroke-linejoin="round"/>
<path d="M386.18,841.74 L389.88,831.55 L406.81,804.24 L413.63,798.58 L412.70,794.43 L403.30,815.37 L401.94,812.09 L401.78,815.63 L396.69,835.63" fill="none" stroke="#808080" stroke-width="1.3" stroke-linejoin="round"/>
<path d="M384.76,853.80 L381.40,853.14 L388.15,853.67 L378.24,854.29 L387.79,859.23 L385.59,856.12 L383.37,861.87" fill="none" stroke="#808080" stroke-width="1.3" stroke-linejoin="round"/>
<path d="M396.08,833.80 L405.46,852.88 L413.62,848.21 L407.09,829.64 L407.45,839.86 L411.50,824.55" fill="none" stroke="#808080" stroke-width="1.3" stroke-linejoin="round"/>
<path d="M427.10,826.03 L432.01,832.17 L428.22,827.45 L415.40,847.54 L427.66,852.36 L438.66,835.12 L431.13,834.13 L419.42,824.12 L412.78,826.14" fill="none" stroke="#808080" stroke-width="1.3" stroke-linejoin="round"/>
<path d="M434.33,837.72 L425.03,828.49 L427.78,837.10 L413.10,832.64 L401.55,818.33 L408.54,824.21 L403.77,835.25 L411.02,846.70 L404.83,861.64 L397.25,852.13 L402.75,848.02" fill="none" stroke="#808080" stroke-width="1.3" stroke-linejoin="round"/>
<path d="M435.78,859.60 L424.51,858.56 L416.04,856.26 L424.85,853.49 L422.95,854.65 L422.75,843.36 L414.40,843.30 L422.33,835.22 L418.34,812.14 L419.15,795.46 L423.10,801.83" fill="none" stroke="#808080" stroke-width="1.3" stroke-linejoin="round"/>
<path d="M405.35,851.23 L399.87,832.06 L416.15,801.70 L425.04,812.50 L412.61,825.78 L411.08,816.64 L427.43,826.46 L432.85,817.57 L424.69,823.80 L423.43,802.37 L418.70,794.31" fill="none" stroke="#808080" stroke-width="1.3" stroke-linejoin="round"/>
<path d="M408.59,836.89 L400.61,844.92 L392.96,826.58 L393.19,847.39 L385.92,837.94 L395.70,822.15 L406.07,826.21 L408.51,839.61 L400.77,829.54 L410.70,797.97" fill="none" stroke="#808080" stroke-width="1.3" stroke-linejoin="round"/>
<path d="M395.45,852.71 L400.51,845.17 L405.77,857.95 L402.38,856.96 L392.30,854.58 L405.60,853.65" fill="none" stroke="#808080" stroke-width="1.3" stroke-linejoin="round"/>
<path d="M446.05,838.85 L445.96,846.15 L448.29,852.66 L442.26,848.27 L445.26,837.58 L431.27,815.01 L422.64,809.96 L423.20,803.65 L418.27,807.45 L418.40,803.13 L422.04,801.40" fill="none" stroke="#808080" stroke-width="1.3" stroke-linejoin="round"/>
<path d="M405.02,842.01 L413.03,829.51 L409.38,820.40 L409.48,827.80 L404.58,827.80 L406.06,818.00" fill="none" stroke="#808080" stroke-width="1.3" stroke-linejoin="round"/>
<path d="M398.94,820.14 L408.41,830.05 L410.43,820.77 L402.76,826.46 L404.88,823.57 L398.39,819.92 L400.95,833.12 L390.85,854.26 L399.78,853.45" fill="none" stroke="#808080" stroke-width="1.3" stroke-linejoin="round"/>
<path d="M411.16,834.36 L415.81,852.72 L431.46,847.63 L432.27,816.62 L429.43,812.04 L427.03,808.17" fill="none" stroke="#808080" stroke-width="1.3" stroke-linejoin="round"/>
<path d="M411.29,861.65 L417.94,848.40 L426.26,861.36 L427.54,848.67 L428.20,838.81 L427.71,825.67" fill="none" stroke="#808080" stroke-width="1.3" stroke-linejoin="round"/>
<path d="M393.00,862.00 L394.00,835.00 L396.00,812.00 L398.00,790.00 L400.00,772.00 L402.00,755.00 L403.50,742.00 L405.00,732.00 L404.00,750.00 L401.00,770.00 L398.00,800.00 L396.00,830.00" fill="none" stroke="#808080" stroke-width="1.3" stroke-linejoin="round"/>
<path d="M412.00,842.00 L418.00,820.00 L424.60,780.90 L430.40,779.00 L438.10,783.80 L446.70,793.40 L463.00,806.90 L464.00,814.60 L472.60,828.00 L482.30,830.00 L499.60,829.00 L507.20,789.60 L514.90,803.00 L522.60,822.20 L530.30,837.60 L539.90,856.80 L547.60,828.00 L564.90,833.80 L568.70,849.10 L580.30,864.50 L593.70,891.40 L597.50,902.90 L607.20,918.30 L622.50,943.30" fill="none" stroke="#808080" stroke-width="1.3" stroke-linejoin="round"/>
<path d="M416.00,830.00 L425.00,800.00 L431.00,770.00 L435.80,748.30 L443.80,751.10 L446.70,768.40 L443.80,773.20 L446.70,780.90 L438.10,784.80 L450.00,800.00 L470.00,815.00 L490.00,835.00 L510.00,850.00 L530.30,862.60 L549.50,887.60 L557.20,870.30 L566.80,879.90 L574.50,868.40 L584.10,883.70 L593.70,893.30 L605.00,905.00 L615.00,918.00" fill="none" stroke="#808080" stroke-width="1.3" stroke-linejoin="round"/>
<path d="M420.00,850.00 L450.00,870.00 L480.00,880.00 L510.00,900.00 L530.00,915.00 L549.50,920.20 L561.00,922.20 L578.30,920.20 L591.80,941.40 L607.20,941.40 L618.70,937.50 L626.40,941.40 L645.60,952.90" fill="none" stroke="#808080" stroke-width="1.3" stroke-linejoin="round"/>
<path d="M414.00,840.00 L408.00,810.00 L404.00,790.00 L407.00,785.00 L410.00,800.00 L413.00,780.00 L416.00,790.00 L420.00,805.00 L424.00,795.00 L428.00,815.00 L432.00,805.00 L436.00,825.00 L440.00,835.00" fill="none" stroke="#808080" stroke-width="1.3" stroke-linejoin="round"/>
<path d="M414.00,850.00 L404.00,820.00 L397.00,800.00 L392.00,815.00 L386.00,805.00 L380.00,825.00 L372.00,818.00 L362.00,835.00 L350.00,832.00 L340.00,845.00" fill="none" stroke="#808080" stroke-width="1.3" stroke-linejoin="round"/>
<line x1="415.7" y1="839.9" x2="15.699999999999989" y2="811.88" stroke="#8b008b" stroke-width="1.3" stroke-dasharray="1.25 1.95"/>
<line x1="415.7" y1="839.9" x2="15.699999999999989" y2="851.59" stroke="#8b008b" stroke-width="1.3" stroke-dasharray="1.25 1.95"/>
<line x1="415.7" y1="839.9" x2="15.699999999999989" y2="936.14" stroke="#8b008b" stroke-width="1.3" stroke-dasharray="1.25 1.95"/>
<line x1="415.7" y1="839.9" x2="15.699999999999989" y2="940.94" stroke="#8b008b" stroke-width="1.3" stroke-dasharray="1.25 1.95"/>
<line x1="415.7" y1="839.9" x2="15.699999999999989" y2="948.95" stroke="#8b008b" stroke-width="1.3" stroke-dasharray="1.25 1.95"/>
<line x1="415.7" y1="839.9" x2="15.699999999999989" y2="960.16" stroke="#8b008b" stroke-width="1.3" stroke-dasharray="1.25 1.95"/>
<line x1="415.7" y1="839.9" x2="15.699999999999989" y2="968.16" stroke="#8b008b" stroke-width="1.3" stroke-dasharray="1.25 1.95"/>
<line x1="415.7" y1="839.9" x2="15.699999999999989" y2="980.97" stroke="#8b008b" stroke-width="1.3" stroke-dasharray="1.25 1.95"/>
<line x1="415.7" y1="839.9" x2="15.699999999999989" y2="991.54" stroke="#8b008b" stroke-width="1.3" stroke-dasharray="1.25 1.95"/>
<line x1="415.7" y1="839.9" x2="15.699999999999989" y2="1001.79" stroke="#8b008b" stroke-width="1.3" stroke-dasharray="1.25 1.95"/>
<line x1="415.7" y1="839.9" x2="15.699999999999989" y2="1013.00" stroke="#8b008b" stroke-width="1.3" stroke-dasharray="1.25 1.95"/>
<line x1="415.7" y1="839.9" x2="15.699999999999989" y2="1022.61" stroke="#8b008b" stroke-width="1.3" stroke-dasharray="1.25 1.95"/>
<line x1="415.7" y1="839.9" x2="15.699999999999989" y2="1033.82" stroke="#8b008b" stroke-width="1.3" stroke-dasharray="1.25 1.95"/>
<line x1="415.7" y1="839.9" x2="15.699999999999989" y2="1044.38" stroke="#8b008b" stroke-width="1.3" stroke-dasharray="1.25 1.95"/>
<line x1="415.7" y1="839.9" x2="15.699999999999989" y2="1054.63" stroke="#8b008b" stroke-width="1.3" stroke-dasharray="1.25 1.95"/>
<line x1="415.7" y1="839.9" x2="15.699999999999989" y2="1065.84" stroke="#8b008b" stroke-width="1.3" stroke-dasharray="1.25 1.95"/>
<line x1="415.7" y1="839.9" x2="15.699999999999989" y2="1075.45" stroke="#8b008b" stroke-width="1.3" stroke-dasharray="1.25 1.95"/>
<line x1="415.7" y1="839.9" x2="15.699999999999989" y2="1086.66" stroke="#8b008b" stroke-width="1.3" stroke-dasharray="1.25 1.95"/>
<line x1="415.7" y1="839.9" x2="15.699999999999989" y2="1097.23" stroke="#8b008b" stroke-width="1.3" stroke-dasharray="1.25 1.95"/>
<line x1="415.7" y1="839.9" x2="15.699999999999989" y2="1107.47" stroke="#8b008b" stroke-width="1.3" stroke-dasharray="1.25 1.95"/>
<line x1="415.7" y1="839.9" x2="15.699999999999989" y2="1118.68" stroke="#8b008b" stroke-width="1.3" stroke-dasharray="1.25 1.95"/>
<line x1="415.7" y1="839.9" x2="15.699999999999989" y2="1128.29" stroke="#8b008b" stroke-width="1.3" stroke-dasharray="1.25 1.95"/>
<line x1="415.7" y1="839.9" x2="15.699999999999989" y2="1139.50" stroke="#8b008b" stroke-width="1.3" stroke-dasharray="1.25 1.95"/>
<line x1="415.7" y1="839.9" x2="15.699999999999989" y2="1233.98" stroke="#8b008b" stroke-width="1.3" stroke-dasharray="1.25 1.95"/>
<line x1="415.7" y1="839.9" x2="15.699999999999989" y2="1294.81" stroke="#8b008b" stroke-width="1.3" stroke-dasharray="1.25 1.95"/>
<line x1="415.7" y1="839.9" x2="15.699999999999989" y2="1449.97" stroke="#8b008b" stroke-width="1.3" stroke-dasharray="1.25 1.95"/>
<line x1="415.7" y1="839.9" x2="815.7" y2="827.74" stroke="#008b8b" stroke-width="1.3" stroke-dasharray="1.25 1.95"/>
<line x1="415.7" y1="839.9" x2="815.7" y2="951.90" stroke="#008b8b" stroke-width="1.3" stroke-dasharray="1.25 1.95"/>
<line x1="415.7" y1="839.9" x2="815.7" y2="959.74" stroke="#008b8b" stroke-width="1.3" stroke-dasharray="1.25 1.95"/>
<line x1="415.7" y1="839.9" x2="815.7" y2="980.86" stroke="#008b8b" stroke-width="1.3" stroke-dasharray="1.25 1.95"/>
<line x1="415.7" y1="839.9" x2="815.7" y2="1015.26" stroke="#008b8b" stroke-width="1.3" stroke-dasharray="1.25 1.95"/>
<line x1="415.7" y1="839.9" x2="815.7" y2="1033.66" stroke="#008b8b" stroke-width="1.3" stroke-dasharray="1.25 1.95"/>
<line x1="415.7" y1="839.9" x2="815.7" y2="1070.62" stroke="#008b8b" stroke-width="1.3" stroke-dasharray="1.25 1.95"/>
<line x1="415.7" y1="839.9" x2="815.7" y2="1091.74" stroke="#008b8b" stroke-width="1.3" stroke-dasharray="1.25 1.95"/>
<line x1="415.7" y1="839.9" x2="815.7" y2="1103.74" stroke="#008b8b" stroke-width="1.3" stroke-dasharray="1.25 1.95"/>
<line x1="415.7" y1="839.9" x2="815.7" y2="1139.26" stroke="#008b8b" stroke-width="1.3" stroke-dasharray="1.25 1.95"/>
<line x1="415.7" y1="839.9" x2="815.7" y2="1147.58" stroke="#008b8b" stroke-width="1.3" stroke-dasharray="1.25 1.95"/>
<line x1="415.7" y1="839.9" x2="815.7" y2="1160.06" stroke="#008b8b" stroke-width="1.3" stroke-dasharray="1.25 1.95"/>
<line x1="415.7" y1="839.9" x2="815.7" y2="1166.78" stroke="#008b8b" stroke-width="1.3" stroke-dasharray="1.25 1.95"/>
<line x1="415.7" y1="839.9" x2="815.7" y2="1241.18" stroke="#008b8b" stroke-width="1.3" stroke-dasharray="1.25 1.95"/>
<line x1="415.7" y1="839.9" x2="815.7" y2="1262.14" stroke="#008b8b" stroke-width="1.3" stroke-dasharray="1.25 1.95"/>
<line x1="415.7" y1="839.9" x2="815.7" y2="1281.34" stroke="#008b8b" stroke-width="1.3" stroke-dasharray="1.25 1.95"/>
<line x1="415.7" y1="839.9" x2="815.7" y2="1929.65" stroke="#008b8b" stroke-width="1.3" stroke-dasharray="1.25 1.95"/>
<line x1="415.7" y1="839.9" x2="815.7" y2="1663.58" stroke="#008b8b" stroke-width="1.3" stroke-dasharray="1.25 1.95"/>
<line x1="415.7" y1="839.9" x2="815.7" y2="1597.67" stroke="#008b8b" stroke-width="1.3" stroke-dasharray="1.25 1.95"/>
<line x1="415.7" y1="839.9" x2="815.7" y2="1568.28" stroke="#008b8b" stroke-width="1.3" stroke-dasharray="1.25 1.95"/>
<line x1="415.7" y1="839.9" x2="815.7" y2="1541.08" stroke="#008b8b" stroke-width="1.3" stroke-dasharray="1.25 1.95"/>
<line x1="415.7" y1="839.9" x2="815.7" y2="1511.41" stroke="#008b8b" stroke-width="1.3" stroke-dasharray="1.25 1.95"/>
<line x1="415.7" y1="839.9" x2="815.7" y2="1454.63" stroke="#008b8b" stroke-width="1.3" stroke-dasharray="1.25 1.95"/>
<line x1="415.7" y1="839.9" x2="815.7" y2="1427.69" stroke="#008b8b" stroke-width="1.3" stroke-dasharray="1.25 1.95"/>
<line x1="415.7" y1="839.9" x2="815.7" y2="1406.42" stroke="#008b8b" stroke-width="1.3" stroke-dasharray="1.25 1.95"/>
<line x1="415.7" y1="839.9" x2="815.7" y2="1362.53" stroke="#008b8b" stroke-width="1.3" stroke-dasharray="1.25 1.95"/>
<line x1="415.7" y1="839.9" x2="815.7" y2="1351.38" stroke="#008b8b" stroke-width="1.3" stroke-dasharray="1.25 1.95"/>
<line x1="415.7" y1="839.9" x2="815.7" y2="1294.62" stroke="#008b8b" stroke-width="1.3" stroke-dasharray="1.25 1.95"/>
<line x1="415.7" y1="839.9" x2="165.9" y2="982.5" stroke="#8b008b" stroke-width="5.4" stroke-linecap="square"/>
<line x1="415.7" y1="839.9" x2="715.7" y2="1189.11" stroke="#008b8b" stroke-width="5.4" stroke-linecap="square"/>
<line x1="415.7" y1="839.9" x2="665.7" y2="984.1" stroke="#8b008b" stroke-width="5.4" stroke-dasharray="20 8.2"/>
</g>
<rect x="165.90" y="732.40" width="499.80" height="389.20" fill="none" stroke="#000" stroke-width="1.94" stroke-linejoin="miter"/>
<line x1="157.43" y1="782.50" x2="165.90" y2="782.50" stroke="#000" stroke-width="1.94"/>
<text x="149.26" y="792.50" font-size="25.65" textLength="38.49" lengthAdjust="spacingAndGlyphs" text-anchor="end">0.1</text>
<line x1="157.43" y1="839.90" x2="165.90" y2="839.90" stroke="#000" stroke-width="1.94"/>
<text x="149.26" y="849.90" font-size="25.65" textLength="38.49" lengthAdjust="spacingAndGlyphs" text-anchor="end">0.0</text>
<line x1="157.43" y1="897.30" x2="165.90" y2="897.30" stroke="#000" stroke-width="1.94"/>
<text x="149.26" y="907.30" font-size="25.65" textLength="58.76" lengthAdjust="spacingAndGlyphs" text-anchor="end">−0.1</text>
<line x1="157.43" y1="954.70" x2="165.90" y2="954.70" stroke="#000" stroke-width="1.94"/>
<text x="149.26" y="964.70" font-size="25.65" textLength="58.76" lengthAdjust="spacingAndGlyphs" text-anchor="end">−0.2</text>
<line x1="157.43" y1="1012.10" x2="165.90" y2="1012.10" stroke="#000" stroke-width="1.94"/>
<text x="149.26" y="1022.10" font-size="25.65" textLength="58.76" lengthAdjust="spacingAndGlyphs" text-anchor="end">−0.3</text>
<line x1="157.43" y1="1069.50" x2="165.90" y2="1069.50" stroke="#000" stroke-width="1.94"/>
<text x="149.26" y="1079.50" font-size="25.65" textLength="58.76" lengthAdjust="spacingAndGlyphs" text-anchor="end">−0.4</text>
<line x1="247.60" y1="1121.60" x2="247.60" y2="1130.07" stroke="#000" stroke-width="1.94"/>
<text x="247.60" y="1156.40" font-size="25.65" textLength="47.22" lengthAdjust="spacingAndGlyphs" text-anchor="middle">-0.2</text>
<line x1="331.65" y1="1121.60" x2="331.65" y2="1130.07" stroke="#000" stroke-width="1.94"/>
<text x="331.65" y="1156.40" font-size="25.65" textLength="47.22" lengthAdjust="spacingAndGlyphs" text-anchor="middle">-0.1</text>
<line x1="415.70" y1="1121.60" x2="415.70" y2="1130.07" stroke="#000" stroke-width="1.94"/>
<text x="415.70" y="1156.40" font-size="25.65" textLength="47.22" lengthAdjust="spacingAndGlyphs" text-anchor="middle">-0.0</text>
<line x1="499.75" y1="1121.60" x2="499.75" y2="1130.07" stroke="#000" stroke-width="1.94"/>
<text x="499.75" y="1156.40" font-size="25.65" textLength="47.22" lengthAdjust="spacingAndGlyphs" text-anchor="middle">-0.1</text>
<line x1="583.80" y1="1121.60" x2="583.80" y2="1130.07" stroke="#000" stroke-width="1.94"/>
<text x="583.80" y="1156.40" font-size="25.65" textLength="47.22" lengthAdjust="spacingAndGlyphs" text-anchor="middle">-0.2</text>
<text x="415.30" y="1188.50" font-size="25.65" textLength="407.44" lengthAdjust="spacingAndGlyphs" text-anchor="middle">GMT relative to peak warming [K]</text>
<text x="51.30" y="927.00" font-size="25.65" textLength="280.00" lengthAdjust="spacingAndGlyphs" text-anchor="middle" transform="rotate(-90 51.30 927.00)">tas anomaly relative to</text>
<text x="79.70" y="927.00" font-size="25.65" textLength="244.13" lengthAdjust="spacingAndGlyphs" text-anchor="middle" transform="rotate(-90 79.70 927.00)">peak warming in [K]</text>
<path d="M640.50,697.20 L624.30,729.60 L656.70,729.60 Z" fill="#0000ff" stroke="#000" stroke-width="2.4" stroke-linejoin="miter"/>
<text x="415.70" y="718.10" font-size="29.70" textLength="215.17" lengthAdjust="spacingAndGlyphs" text-anchor="middle">MPI-ESM1-2-LR</text>
<text x="-1.50" y="673.70" font-size="49.38" textLength="25.27" lengthAdjust="spacingAndGlyphs" style="font-family:&quot;Liberation Serif&quot;,serif" font-weight="bold">c</text>
<rect x="823.0" y="782.7" width="235.0" height="175.0999999999999" fill="#b2182b"/>
<path d="M1058.0,957.8 L1058.0,782.7 L1292.8,782.7 Z" fill="#f4a582"/>
<path d="M1058.0,957.8 L1292.8,782.7 L1292.8,957.8 Z" fill="#92c5de"/>
<rect x="1058.0" y="957.8" width="234.79999999999995" height="174.79999999999995" fill="#2166ac"/>
<path d="M1058.0,957.8 L823.0,957.8 L823.0,1132.6 Z" fill="#f4a582"/>
<path d="M1058.0,957.8 L823.0,1132.6 L1058.0,1132.6 Z" fill="#92c5de"/>
<line x1="1058.0" y1="782.7" x2="1058.0" y2="1132.6" stroke="#808080" stroke-width="3.0"/>
<line x1="823.0" y1="957.8" x2="1292.8" y2="957.8" stroke="#808080" stroke-width="3.0"/>
<clipPath id="cd"><rect x="823.0" y="770.7" width="469.79999999999995" height="361.89999999999986"/></clipPath>
<g>
<path d="M1168.30,933.70 L1158.70,914.50 L1177.90,914.50 Z" fill="#00ff00" stroke="#000" stroke-width="2.2" stroke-linejoin="miter"/>
<path d="M1082.90,797.00 L1073.30,816.20 L1092.50,816.20 Z" fill="#ff00ff" stroke="#000" stroke-width="2.2" stroke-linejoin="miter"/>
<path d="M1153.10,868.20 L1172.30,868.20 L1172.30,887.40 L1153.10,887.40 Z" fill="#0080ff" stroke="#fff" stroke-width="2.2" stroke-linejoin="miter"/>
<circle cx="1172.00" cy="891.50" r="9.60" fill="#ff8000" stroke="#000" stroke-width="2.2"/>
<path d="M1217.20,869.50 L1223.60,869.50 L1223.60,875.90 L1230.00,875.90 L1230.00,882.30 L1223.60,882.30 L1223.60,888.70 L1217.20,888.70 L1217.20,882.30 L1210.80,882.30 L1210.80,875.90 L1217.20,875.90 Z" fill="#8fbc8f" stroke="#000" stroke-width="2.2" stroke-linejoin="miter"/>
<path d="M1211.80,850.90 L1192.60,841.30 L1192.60,860.50 Z" fill="#6b209f" stroke="#fff" stroke-width="2.2" stroke-linejoin="miter"/>
<path d="M1136.00,862.60 L1155.20,853.00 L1155.20,872.20 Z" fill="#c00000" stroke="#000" stroke-width="2.2" stroke-linejoin="miter"/>
<path d="M1063.60,782.80 L1068.40,787.60 L1073.20,782.80 L1078.00,787.60 L1073.20,792.40 L1078.00,797.20 L1073.20,802.00 L1068.40,797.20 L1063.60,802.00 L1058.80,797.20 L1063.60,792.40 L1058.80,787.60 Z" fill="#dc88f0" stroke="#000" stroke-width="2.2" stroke-linejoin="miter"/>
<path d="M1196.20,872.02 L1204.35,885.60 L1196.20,899.18 L1188.05,885.60 Z" fill="#1f7f1f" stroke="#000" stroke-width="2.2" stroke-linejoin="miter"/>
<path d="M1180.40,848.62 L1193.98,862.20 L1180.40,875.78 L1166.82,862.20 Z" fill="#00ffff" stroke="#fff" stroke-width="2.2" stroke-linejoin="miter"/>
<path d="M1081.10,891.00 L1071.50,871.80 L1090.70,871.80 Z" fill="#f4f420" stroke="#000" stroke-width="2.2" stroke-linejoin="miter"/>
<path d="M1238.50,881.90 L1228.90,901.10 L1248.10,901.10 Z" fill="#0000ff" stroke="#000" stroke-width="2.2" stroke-linejoin="miter"/>
<path d="M1046.90,843.50 L1066.10,843.50 L1066.10,862.70 L1046.90,862.70 Z" fill="#22ee80" stroke="#000" stroke-width="2.2" stroke-linejoin="miter"/>
<circle cx="1151.40" cy="870.20" r="9.60" fill="#d64878" stroke="#000" stroke-width="2.2"/>
</g>
<rect x="829.9" y="970.0" width="379.2" height="155.2" rx="3.5" fill="#fff" fill-opacity="0.8" stroke="#ccc" stroke-opacity="0.8" stroke-width="1.9"/>
<path d="M851.20,993.10 L841.20,973.10 L861.20,973.10 Z" fill="#00ff00" stroke="#000" stroke-width="2.3" stroke-linejoin="miter"/>
<text x="877.30" y="987.00" font-size="15.39" textLength="124.70" lengthAdjust="spacingAndGlyphs">ACCESS-ESM1-5*</text>
<path d="M851.20,994.72 L841.20,1014.72 L861.20,1014.72 Z" fill="#ff00ff" stroke="#000" stroke-width="2.3" stroke-linejoin="miter"/>
<text x="877.30" y="1008.62" font-size="15.39" textLength="118.25" lengthAdjust="spacingAndGlyphs">CESM2-WACCM*</text>
<path d="M841.20,1016.34 L861.20,1016.34 L861.20,1036.34 L841.20,1036.34 Z" fill="#0080ff" stroke="#fff" stroke-width="2.3" stroke-linejoin="miter"/>
<text x="877.30" y="1030.24" font-size="15.39" textLength="68.40" lengthAdjust="spacingAndGlyphs">CanESM5</text>
<circle cx="851.20" cy="1047.96" r="10.00" fill="#ff8000" stroke="#000" stroke-width="2.3"/>
<text x="877.30" y="1051.86" font-size="15.39" textLength="79.99" lengthAdjust="spacingAndGlyphs">EC-Earth3*</text>
<path d="M847.87,1059.58 L854.53,1059.58 L854.53,1066.25 L861.20,1066.25 L861.20,1072.91 L854.53,1072.91 L854.53,1079.58 L847.87,1079.58 L847.87,1072.91 L841.20,1072.91 L841.20,1066.25 L847.87,1066.25 Z" fill="#8fbc8f" stroke="#000" stroke-width="2.3" stroke-linejoin="miter"/>
<text x="877.30" y="1073.48" font-size="15.39" textLength="134.75" lengthAdjust="spacingAndGlyphs">EC-Earth3-Veg-LR*</text>
<path d="M861.20,1091.20 L841.20,1081.20 L841.20,1101.20 Z" fill="#6b209f" stroke="#fff" stroke-width="2.3" stroke-linejoin="miter"/>
<text x="877.30" y="1095.10" font-size="15.39" textLength="81.71" lengthAdjust="spacingAndGlyphs">FGOALS-g3</text>
<path d="M841.20,1112.82 L861.20,1102.82 L861.20,1122.82 Z" fill="#c00000" stroke="#000" stroke-width="2.3" stroke-linejoin="miter"/>
<text x="877.30" y="1116.72" font-size="15.39" textLength="91.27" lengthAdjust="spacingAndGlyphs">GFDL-ESM4*</text>
<path d="M1053.60,973.10 L1058.60,978.10 L1063.60,973.10 L1068.60,978.10 L1063.60,983.10 L1068.60,988.10 L1063.60,993.10 L1058.60,988.10 L1053.60,993.10 L1048.60,988.10 L1053.60,983.10 L1048.60,978.10 Z" fill="#dc88f0" stroke="#000" stroke-width="2.3" stroke-linejoin="miter"/>
<text x="1084.90" y="987.00" font-size="15.39" textLength="96.38" lengthAdjust="spacingAndGlyphs">GISS-E2-1-G*</text>
<path d="M1058.60,990.58 L1067.09,1004.72 L1058.60,1018.86 L1050.11,1004.72 Z" fill="#1f7f1f" stroke="#000" stroke-width="2.3" stroke-linejoin="miter"/>
<text x="1084.90" y="1008.62" font-size="15.39" textLength="107.52" lengthAdjust="spacingAndGlyphs">IPSL-CM6A-LR*</text>
<path d="M1058.60,1012.20 L1072.74,1026.34 L1058.60,1040.48 L1044.46,1026.34 Z" fill="#00ffff" stroke="#fff" stroke-width="2.3" stroke-linejoin="miter"/>
<text x="1084.90" y="1030.24" font-size="15.39" textLength="89.42" lengthAdjust="spacingAndGlyphs">MIROC-ES2L</text>
<path d="M1058.60,1057.96 L1048.60,1037.96 L1068.60,1037.96 Z" fill="#f4f420" stroke="#000" stroke-width="2.3" stroke-linejoin="miter"/>
<text x="1084.90" y="1051.86" font-size="15.39" textLength="64.96" lengthAdjust="spacingAndGlyphs">MIROC6*</text>
<path d="M1058.60,1059.58 L1048.60,1079.58 L1068.60,1079.58 Z" fill="#0000ff" stroke="#000" stroke-width="2.3" stroke-linejoin="miter"/>
<text x="1084.90" y="1073.48" font-size="15.39" textLength="116.12" lengthAdjust="spacingAndGlyphs">MPI-ESM1-2-LR*</text>
<path d="M1048.60,1081.20 L1068.60,1081.20 L1068.60,1101.20 L1048.60,1101.20 Z" fill="#22ee80" stroke="#000" stroke-width="2.3" stroke-linejoin="miter"/>
<text x="1084.90" y="1095.10" font-size="15.39" textLength="94.03" lengthAdjust="spacingAndGlyphs">MRI-ESM2-0*</text>
<circle cx="1058.60" cy="1112.82" r="10.00" fill="#d64878" stroke="#000" stroke-width="2.3"/>
<text x="1084.90" y="1116.72" font-size="15.39" textLength="103.46" lengthAdjust="spacingAndGlyphs">UKESM1-0-LL*</text>
<rect x="823.00" y="782.70" width="469.80" height="349.90" fill="none" stroke="#000" stroke-width="1.67" stroke-linejoin="miter"/>
<line x1="815.68" y1="798.76" x2="823.00" y2="798.76" stroke="#000" stroke-width="1.67"/>
<text x="808.66" y="807.46" font-size="22.15" textLength="13.30" lengthAdjust="spacingAndGlyphs" text-anchor="end">2</text>
<line x1="815.68" y1="878.28" x2="823.00" y2="878.28" stroke="#000" stroke-width="1.67"/>
<text x="808.66" y="886.98" font-size="22.15" textLength="13.30" lengthAdjust="spacingAndGlyphs" text-anchor="end">1</text>
<line x1="815.68" y1="957.80" x2="823.00" y2="957.80" stroke="#000" stroke-width="1.67"/>
<text x="808.66" y="966.50" font-size="22.15" textLength="13.30" lengthAdjust="spacingAndGlyphs" text-anchor="end">0</text>
<line x1="815.68" y1="1037.32" x2="823.00" y2="1037.32" stroke="#000" stroke-width="1.67"/>
<text x="808.66" y="1046.02" font-size="22.15" textLength="30.81" lengthAdjust="spacingAndGlyphs" text-anchor="end">−1</text>
<line x1="815.68" y1="1116.84" x2="823.00" y2="1116.84" stroke="#000" stroke-width="1.67"/>
<text x="808.66" y="1125.54" font-size="22.15" textLength="30.81" lengthAdjust="spacingAndGlyphs" text-anchor="end">−2</text>
<line x1="844.46" y1="1132.60" x2="844.46" y2="1139.92" stroke="#000" stroke-width="1.67"/>
<text x="844.46" y="1163.70" font-size="22.15" textLength="33.24" lengthAdjust="spacingAndGlyphs" text-anchor="middle">2.0</text>
<line x1="951.23" y1="1132.60" x2="951.23" y2="1139.92" stroke="#000" stroke-width="1.67"/>
<text x="951.23" y="1163.70" font-size="22.15" textLength="33.24" lengthAdjust="spacingAndGlyphs" text-anchor="middle">1.0</text>
<line x1="1058.00" y1="1132.60" x2="1058.00" y2="1139.92" stroke="#000" stroke-width="1.67"/>
<text x="1058.00" y="1163.70" font-size="22.15" textLength="40.78" lengthAdjust="spacingAndGlyphs" text-anchor="middle">-0.0</text>
<line x1="1164.77" y1="1132.60" x2="1164.77" y2="1139.92" stroke="#000" stroke-width="1.67"/>
<text x="1164.77" y="1163.70" font-size="22.15" textLength="40.78" lengthAdjust="spacingAndGlyphs" text-anchor="middle">-1.0</text>
<line x1="1271.54" y1="1132.60" x2="1271.54" y2="1139.92" stroke="#000" stroke-width="1.67"/>
<text x="1271.54" y="1163.70" font-size="22.15" textLength="40.78" lengthAdjust="spacingAndGlyphs" text-anchor="middle">-2.0</text>
<text x="1057.80" y="1192.30" font-size="22.15" textLength="441.71" lengthAdjust="spacingAndGlyphs" text-anchor="middle">change in tas per degree of cooling [K / K]</text>
<text x="767.10" y="957.40" font-size="22.15" textLength="457.32" lengthAdjust="spacingAndGlyphs" text-anchor="middle" transform="rotate(-90 767.10 957.40)">change in tas per degree of warming [K / K]</text>
<rect x="870.1" y="707.4" width="140.9" height="45.4" rx="3.4" fill="#b2182b"/>
<text x="940.80" y="725.30" font-size="17.96" textLength="131.30" lengthAdjust="spacingAndGlyphs" text-anchor="middle" fill="#fff">increase before</text>
<text x="940.80" y="744.10" font-size="17.96" textLength="124.08" lengthAdjust="spacingAndGlyphs" text-anchor="middle" fill="#fff">and after peak</text>
<rect x="1076.6" y="689.0" width="193.4" height="63.6" rx="3.4" fill="#f4a582"/>
<text x="1081.00" y="706.20" font-size="17.96" textLength="178.05" lengthAdjust="spacingAndGlyphs">increase before peak</text>
<text x="1081.00" y="725.10" font-size="17.96" textLength="134.10" lengthAdjust="spacingAndGlyphs">is stronger than</text>
<text x="1081.00" y="743.60" font-size="17.96" textLength="183.78" lengthAdjust="spacingAndGlyphs">decrease before peak</text>
<rect x="1335.0" y="743.2" width="64.4" height="186.8" rx="3.4" fill="#92c5de"/>
<text x="1381.00" y="747.30" font-size="17.96" textLength="169.34" lengthAdjust="spacingAndGlyphs" transform="rotate(90 1381.00 747.30)">decrease after peak</text>
<text x="1361.90" y="747.30" font-size="17.96" textLength="134.10" lengthAdjust="spacingAndGlyphs" transform="rotate(90 1361.90 747.30)">is stronger than</text>
<text x="1342.80" y="747.30" font-size="17.96" textLength="178.05" lengthAdjust="spacingAndGlyphs" transform="rotate(90 1342.80 747.30)">increase before peak</text>
<rect x="1335.0" y="970.7" width="45.1" height="146.1" rx="3.4" fill="#2166ac"/>
<text x="1361.90" y="975.40" font-size="17.96" textLength="137.03" lengthAdjust="spacingAndGlyphs" fill="#fff" transform="rotate(90 1361.90 975.40)">decrease before</text>
<text x="1342.80" y="975.40" font-size="17.96" textLength="124.08" lengthAdjust="spacingAndGlyphs" fill="#fff" transform="rotate(90 1342.80 975.40)">and after peak</text>
<line x1="1054.40" y1="765.40" x2="838.20" y2="765.40" stroke="#000" stroke-width="1.9"/>
<path d="M828.60,765.40 L839.20,759.90 L839.20,770.90 Z" fill="#000"/>
<line x1="1242.60" y1="765.40" x2="1072.60" y2="765.40" stroke="#000" stroke-width="1.9"/>
<path d="M1063.00,765.40 L1073.60,759.90 L1073.60,770.90 Z" fill="#000"/>
<line x1="1316.50" y1="821.20" x2="1316.50" y2="942.30" stroke="#000" stroke-width="1.9"/>
<path d="M1316.50,951.90 L1311.00,941.30 L1322.00,941.30 Z" fill="#000"/>
<line x1="1316.50" y1="961.60" x2="1316.50" y2="1117.80" stroke="#000" stroke-width="1.9"/>
<path d="M1316.50,1127.40 L1311.00,1116.80 L1322.00,1116.80 Z" fill="#000"/>
<text x="723.40" y="673.90" font-size="49.38" textLength="29.02" lengthAdjust="spacingAndGlyphs" style="font-family:&quot;Liberation Serif&quot;,serif" font-weight="bold">d</text>
</svg>
</body></html>
